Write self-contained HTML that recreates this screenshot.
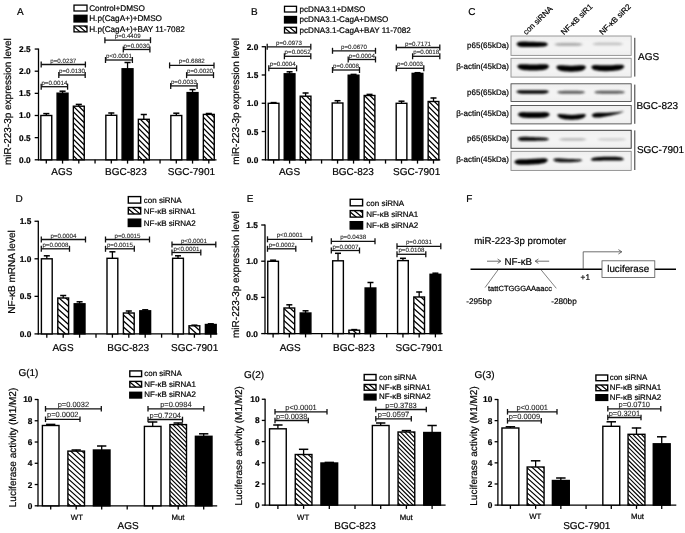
<!DOCTYPE html>
<html lang="en"><head><meta charset="utf-8"><title>Figure</title>
<style>
html,body{margin:0;padding:0;background:#fff;}
svg{display:block;}
text{font-family:"Liberation Sans",Arial,sans-serif;text-rendering:geometricPrecision;stroke:#000;stroke-width:0.22px;stroke-opacity:0.9;}
text.p{stroke:#222;stroke-width:0.1px;}
</style></head><body>
<svg width="685" height="533" viewBox="0 0 685 533">
<defs>
<filter id="b1" x="-20%" y="-120%" width="140%" height="340%"><feGaussianBlur stdDeviation="1.0 0.85"/></filter>
<filter id="b2" x="-20%" y="-120%" width="140%" height="340%"><feGaussianBlur stdDeviation="1.5 0.9"/></filter>
<linearGradient id="blotbg" x1="0" y1="0" x2="0" y2="1">
<stop offset="0" stop-color="#eeeeee"/><stop offset="0.3" stop-color="#f3f3f3"/><stop offset="0.7" stop-color="#f3f3f3"/><stop offset="1" stop-color="#eeeeee"/>
</linearGradient>
</defs>
<rect x="0" y="0" width="685" height="533" fill="#fff"/>
<g id="fig">
<text x="17.1" y="14.9" font-size="10" text-anchor="start" font-weight="normal" fill="#000" >A</text>
<rect x="74" y="5.1" width="13" height="5.9" fill="#fff" stroke="#000" stroke-width="1.3" />
<text x="89.2" y="11.2" font-size="8.2" text-anchor="start" font-weight="normal" fill="#000" >Control+DMSO</text>
<rect x="74" y="15.28" width="13" height="6.7" fill="#000" stroke="#000" stroke-width="1.3" />
<text x="89.2" y="21.3" font-size="8.2" text-anchor="start" font-weight="normal" fill="#000" >H.p(CagA+)+DMSO</text>
<rect x="74" y="26" width="13" height="5.9" fill="#fff" stroke="none" stroke-width="0" />
<clipPath id="c1"><rect x="74" y="26" width="13" height="5.9"/></clipPath>
<path clip-path="url(#c1)" d="M73,6.76L88,19.35M73,11.56L88,24.15M73,16.36L88,28.95M73,21.16L88,33.75M73,25.96L88,38.55M73,30.76L88,43.35M73,35.56L88,48.15" stroke="#000" stroke-width="1.25" fill="none"/>
<rect x="74" y="26" width="13" height="5.9" fill="none" stroke="#000" stroke-width="1.3" />
<text x="89.2" y="32.1" font-size="8.2" text-anchor="start" font-weight="normal" fill="#000" >H.p(CagA+)+BAY 11-7082</text>
<line x1="38.5" y1="48.55" x2="38.5" y2="160.3" stroke="#000" stroke-width="1.3" />
<line x1="38" y1="159.8" x2="216.5" y2="159.8" stroke="#000" stroke-width="1.3" />
<line x1="34.7" y1="159.8" x2="38.5" y2="159.8" stroke="#000" stroke-width="1.3" />
<text x="30.6" y="162.79" font-size="8.3" text-anchor="end" font-weight="bold" fill="#000" >0.0</text>
<line x1="34.7" y1="137.65" x2="38.5" y2="137.65" stroke="#000" stroke-width="1.3" />
<text x="30.6" y="140.64" font-size="8.3" text-anchor="end" font-weight="bold" fill="#000" >0.5</text>
<line x1="34.7" y1="115.5" x2="38.5" y2="115.5" stroke="#000" stroke-width="1.3" />
<text x="30.6" y="118.49" font-size="8.3" text-anchor="end" font-weight="bold" fill="#000" >1.0</text>
<line x1="34.7" y1="93.35" x2="38.5" y2="93.35" stroke="#000" stroke-width="1.3" />
<text x="30.6" y="96.34" font-size="8.3" text-anchor="end" font-weight="bold" fill="#000" >1.5</text>
<line x1="34.7" y1="71.2" x2="38.5" y2="71.2" stroke="#000" stroke-width="1.3" />
<text x="30.6" y="74.19" font-size="8.3" text-anchor="end" font-weight="bold" fill="#000" >2.0</text>
<line x1="34.7" y1="49.05" x2="38.5" y2="49.05" stroke="#000" stroke-width="1.3" />
<text x="30.6" y="52.04" font-size="8.3" text-anchor="end" font-weight="bold" fill="#000" >2.5</text>
<line x1="46.3" y1="159.8" x2="46.3" y2="163.6" stroke="#000" stroke-width="1.3" />
<line x1="62.55" y1="159.8" x2="62.55" y2="163.6" stroke="#000" stroke-width="1.3" />
<line x1="78.8" y1="159.8" x2="78.8" y2="163.6" stroke="#000" stroke-width="1.3" />
<line x1="95.05" y1="159.8" x2="95.05" y2="163.6" stroke="#000" stroke-width="1.3" />
<line x1="111.3" y1="159.8" x2="111.3" y2="163.6" stroke="#000" stroke-width="1.3" />
<line x1="127.55" y1="159.8" x2="127.55" y2="163.6" stroke="#000" stroke-width="1.3" />
<line x1="143.8" y1="159.8" x2="143.8" y2="163.6" stroke="#000" stroke-width="1.3" />
<line x1="160.05" y1="159.8" x2="160.05" y2="163.6" stroke="#000" stroke-width="1.3" />
<line x1="176.3" y1="159.8" x2="176.3" y2="163.6" stroke="#000" stroke-width="1.3" />
<line x1="192.55" y1="159.8" x2="192.55" y2="163.6" stroke="#000" stroke-width="1.3" />
<line x1="208.8" y1="159.8" x2="208.8" y2="163.6" stroke="#000" stroke-width="1.3" />
<text transform="translate(11.3,101.6) rotate(-90)" font-size="10" text-anchor="middle" fill="#000">miR-223-3p expression level</text>
<line x1="46.3" y1="115.5" x2="46.3" y2="113.3" stroke="#000" stroke-width="1.3" />
<line x1="43.25" y1="113.6" x2="49.35" y2="113.6" stroke="#000" stroke-width="1.5" />
<rect x="40.85" y="115.5" width="10.9" height="44.3" fill="#fff" stroke="#000" stroke-width="1.4" />
<line x1="62.55" y1="93.2" x2="62.55" y2="90.9" stroke="#000" stroke-width="1.3" />
<line x1="59.5" y1="91.2" x2="65.6" y2="91.2" stroke="#000" stroke-width="1.5" />
<rect x="57.1" y="93.2" width="10.9" height="66.6" fill="#000" stroke="#000" stroke-width="1.4" />
<line x1="78.8" y1="106.2" x2="78.8" y2="104.1" stroke="#000" stroke-width="1.3" />
<line x1="75.75" y1="104.4" x2="81.85" y2="104.4" stroke="#000" stroke-width="1.5" />
<rect x="73.35" y="106.2" width="10.9" height="53.6" fill="#fff" stroke="none" stroke-width="0" />
<clipPath id="c2"><rect x="73.35" y="106.2" width="10.9" height="53.6"/></clipPath>
<path clip-path="url(#c2)" d="M72.35,83.3L85.25,96.2M72.35,88.8L85.25,101.7M72.35,94.3L85.25,107.2M72.35,99.8L85.25,112.7M72.35,105.3L85.25,118.2M72.35,110.8L85.25,123.7M72.35,116.3L85.25,129.2M72.35,121.8L85.25,134.7M72.35,127.3L85.25,140.2M72.35,132.8L85.25,145.7M72.35,138.3L85.25,151.2M72.35,143.8L85.25,156.7M72.35,149.3L85.25,162.2M72.35,154.8L85.25,167.7M72.35,160.3L85.25,173.2" stroke="#000" stroke-width="1.3" fill="none"/>
<rect x="73.35" y="106.2" width="10.9" height="53.6" fill="none" stroke="#000" stroke-width="1.4" />
<line x1="111.3" y1="115.3" x2="111.3" y2="112.7" stroke="#000" stroke-width="1.3" />
<line x1="108.25" y1="113" x2="114.35" y2="113" stroke="#000" stroke-width="1.5" />
<rect x="105.85" y="115.3" width="10.9" height="44.5" fill="#fff" stroke="#000" stroke-width="1.4" />
<line x1="127.55" y1="68.8" x2="127.55" y2="62.2" stroke="#000" stroke-width="1.3" />
<line x1="124.5" y1="62.5" x2="130.6" y2="62.5" stroke="#000" stroke-width="1.5" />
<rect x="122.1" y="68.8" width="10.9" height="91" fill="#000" stroke="#000" stroke-width="1.4" />
<line x1="143.8" y1="119.3" x2="143.8" y2="114.2" stroke="#000" stroke-width="1.3" />
<line x1="140.75" y1="114.5" x2="146.85" y2="114.5" stroke="#000" stroke-width="1.5" />
<rect x="138.35" y="119.3" width="10.9" height="40.5" fill="#fff" stroke="none" stroke-width="0" />
<clipPath id="c3"><rect x="138.35" y="119.3" width="10.9" height="40.5"/></clipPath>
<path clip-path="url(#c3)" d="M137.35,94.3L150.25,107.2M137.35,99.8L150.25,112.7M137.35,105.3L150.25,118.2M137.35,110.8L150.25,123.7M137.35,116.3L150.25,129.2M137.35,121.8L150.25,134.7M137.35,127.3L150.25,140.2M137.35,132.8L150.25,145.7M137.35,138.3L150.25,151.2M137.35,143.8L150.25,156.7M137.35,149.3L150.25,162.2M137.35,154.8L150.25,167.7M137.35,160.3L150.25,173.2" stroke="#000" stroke-width="1.3" fill="none"/>
<rect x="138.35" y="119.3" width="10.9" height="40.5" fill="none" stroke="#000" stroke-width="1.4" />
<line x1="176.3" y1="115.5" x2="176.3" y2="112.9" stroke="#000" stroke-width="1.3" />
<line x1="173.25" y1="113.2" x2="179.35" y2="113.2" stroke="#000" stroke-width="1.5" />
<rect x="170.85" y="115.5" width="10.9" height="44.3" fill="#fff" stroke="#000" stroke-width="1.4" />
<line x1="192.55" y1="92.6" x2="192.55" y2="89.3" stroke="#000" stroke-width="1.3" />
<line x1="189.5" y1="89.6" x2="195.6" y2="89.6" stroke="#000" stroke-width="1.5" />
<rect x="187.1" y="92.6" width="10.9" height="67.2" fill="#000" stroke="#000" stroke-width="1.4" />
<line x1="208.8" y1="114.4" x2="208.8" y2="113.2" stroke="#000" stroke-width="1.3" />
<line x1="205.75" y1="113.5" x2="211.85" y2="113.5" stroke="#000" stroke-width="1.5" />
<rect x="203.35" y="114.4" width="10.9" height="45.4" fill="#fff" stroke="none" stroke-width="0" />
<clipPath id="c4"><rect x="203.35" y="114.4" width="10.9" height="45.4"/></clipPath>
<path clip-path="url(#c4)" d="M202.35,88.8L215.25,101.7M202.35,94.3L215.25,107.2M202.35,99.8L215.25,112.7M202.35,105.3L215.25,118.2M202.35,110.8L215.25,123.7M202.35,116.3L215.25,129.2M202.35,121.8L215.25,134.7M202.35,127.3L215.25,140.2M202.35,132.8L215.25,145.7M202.35,138.3L215.25,151.2M202.35,143.8L215.25,156.7M202.35,149.3L215.25,162.2M202.35,154.8L215.25,167.7M202.35,160.3L215.25,173.2" stroke="#000" stroke-width="1.3" fill="none"/>
<rect x="203.35" y="114.4" width="10.9" height="45.4" fill="none" stroke="#000" stroke-width="1.4" />
<line x1="41.2" y1="64.5" x2="85.4" y2="64.5" stroke="#111" stroke-width="1.3" />
<line x1="41.2" y1="61.5" x2="41.2" y2="67.5" stroke="#111" stroke-width="1.3" />
<line x1="85.4" y1="61.5" x2="85.4" y2="67.5" stroke="#111" stroke-width="1.3" />
<text x="63.3" y="62.5" font-size="6.2" text-anchor="middle" font-weight="normal" fill="#222" class="p">p=0.0237</text>
<line x1="58.8" y1="75" x2="85.2" y2="75" stroke="#111" stroke-width="1.3" />
<line x1="58.8" y1="72" x2="58.8" y2="78" stroke="#111" stroke-width="1.3" />
<line x1="85.2" y1="72" x2="85.2" y2="78" stroke="#111" stroke-width="1.3" />
<text x="72" y="73" font-size="6.2" text-anchor="middle" font-weight="normal" fill="#222" class="p">p=0.0130</text>
<line x1="41.2" y1="86.7" x2="67.6" y2="86.7" stroke="#111" stroke-width="1.3" />
<line x1="41.2" y1="83.7" x2="41.2" y2="89.7" stroke="#111" stroke-width="1.3" />
<line x1="67.6" y1="83.7" x2="67.6" y2="89.7" stroke="#111" stroke-width="1.3" />
<text x="54.4" y="84.7" font-size="6.2" text-anchor="middle" font-weight="normal" fill="#222" class="p">p=0.0014</text>
<line x1="104.9" y1="40.2" x2="150.5" y2="40.2" stroke="#111" stroke-width="1.3" />
<line x1="104.9" y1="37.2" x2="104.9" y2="43.2" stroke="#111" stroke-width="1.3" />
<line x1="150.5" y1="37.2" x2="150.5" y2="43.2" stroke="#111" stroke-width="1.3" />
<text x="127.7" y="38.2" font-size="6.2" text-anchor="middle" font-weight="normal" fill="#222" class="p">p=0.4409</text>
<line x1="123.3" y1="49.5" x2="149.9" y2="49.5" stroke="#111" stroke-width="1.3" />
<line x1="123.3" y1="46.5" x2="123.3" y2="52.5" stroke="#111" stroke-width="1.3" />
<line x1="149.9" y1="46.5" x2="149.9" y2="52.5" stroke="#111" stroke-width="1.3" />
<text x="136.6" y="47.5" font-size="6.2" text-anchor="middle" font-weight="normal" fill="#222" class="p">p=0.0030</text>
<line x1="105.5" y1="60" x2="132.4" y2="60" stroke="#111" stroke-width="1.3" />
<line x1="105.5" y1="57" x2="105.5" y2="63" stroke="#111" stroke-width="1.3" />
<line x1="132.4" y1="57" x2="132.4" y2="63" stroke="#111" stroke-width="1.3" />
<text x="118.95" y="58" font-size="6.2" text-anchor="middle" font-weight="normal" fill="#222" class="p">p&lt;0.0001</text>
<line x1="169.6" y1="65.4" x2="214" y2="65.4" stroke="#111" stroke-width="1.3" />
<line x1="169.6" y1="62.4" x2="169.6" y2="68.4" stroke="#111" stroke-width="1.3" />
<line x1="214" y1="62.4" x2="214" y2="68.4" stroke="#111" stroke-width="1.3" />
<text x="191.8" y="63.4" font-size="6.2" text-anchor="middle" font-weight="normal" fill="#222" class="p">p=0.6882</text>
<line x1="186.6" y1="75.1" x2="213.5" y2="75.1" stroke="#111" stroke-width="1.3" />
<line x1="186.6" y1="72.1" x2="186.6" y2="78.1" stroke="#111" stroke-width="1.3" />
<line x1="213.5" y1="72.1" x2="213.5" y2="78.1" stroke="#111" stroke-width="1.3" />
<text x="200.05" y="73.1" font-size="6.2" text-anchor="middle" font-weight="normal" fill="#222" class="p">p=0.0020</text>
<line x1="170.7" y1="85.9" x2="197.1" y2="85.9" stroke="#111" stroke-width="1.3" />
<line x1="170.7" y1="82.9" x2="170.7" y2="88.9" stroke="#111" stroke-width="1.3" />
<line x1="197.1" y1="82.9" x2="197.1" y2="88.9" stroke="#111" stroke-width="1.3" />
<text x="183.9" y="83.9" font-size="6.2" text-anchor="middle" font-weight="normal" fill="#222" class="p">p=0.0033</text>
<text x="61.8" y="174.6" font-size="10" text-anchor="middle" font-weight="normal" fill="#000" >AGS</text>
<text x="125.9" y="174.6" font-size="10" text-anchor="middle" font-weight="normal" fill="#000" >BGC-823</text>
<text x="191.4" y="174.6" font-size="10" text-anchor="middle" font-weight="normal" fill="#000" >SGC-7901</text>
<text x="251" y="14.7" font-size="10" text-anchor="start" font-weight="normal" fill="#000" >B</text>
<rect x="284.5" y="6.3" width="12" height="5.7" fill="#fff" stroke="#000" stroke-width="1.3" />
<text x="299.5" y="11.8" font-size="8.1" text-anchor="start" font-weight="normal" fill="#000" >pcDNA3.1+DMSO</text>
<rect x="284.5" y="16.48" width="12" height="6.5" fill="#000" stroke="#000" stroke-width="1.3" />
<text x="299.5" y="21.9" font-size="8.1" text-anchor="start" font-weight="normal" fill="#000" >pcDNA3.1-CagA+DMSO</text>
<rect x="284.5" y="27.3" width="12" height="5.7" fill="#fff" stroke="none" stroke-width="0" />
<clipPath id="c5"><rect x="284.5" y="27.3" width="12" height="5.7"/></clipPath>
<path clip-path="url(#c5)" d="M283.5,7.86L297.5,19.61M283.5,12.66L297.5,24.41M283.5,17.46L297.5,29.21M283.5,22.26L297.5,34.01M283.5,27.06L297.5,38.81M283.5,31.86L297.5,43.61M283.5,36.66L297.5,48.41" stroke="#000" stroke-width="1.25" fill="none"/>
<rect x="284.5" y="27.3" width="12" height="5.7" fill="none" stroke="#000" stroke-width="1.3" />
<text x="299.5" y="32.8" font-size="8.1" text-anchor="start" font-weight="normal" fill="#000" >pcDNA3.1-CagA+BAY 11-7082</text>
<line x1="265.5" y1="46.2" x2="265.5" y2="160.3" stroke="#000" stroke-width="1.3" />
<line x1="265" y1="159.8" x2="440.3" y2="159.8" stroke="#000" stroke-width="1.3" />
<line x1="261.7" y1="159.8" x2="265.5" y2="159.8" stroke="#000" stroke-width="1.3" />
<text x="258.3" y="162.79" font-size="8.3" text-anchor="end" font-weight="bold" fill="#000" >0.0</text>
<line x1="261.7" y1="131.53" x2="265.5" y2="131.53" stroke="#000" stroke-width="1.3" />
<text x="258.3" y="134.52" font-size="8.3" text-anchor="end" font-weight="bold" fill="#000" >0.5</text>
<line x1="261.7" y1="103.26" x2="265.5" y2="103.26" stroke="#000" stroke-width="1.3" />
<text x="258.3" y="106.25" font-size="8.3" text-anchor="end" font-weight="bold" fill="#000" >1.0</text>
<line x1="261.7" y1="74.99" x2="265.5" y2="74.99" stroke="#000" stroke-width="1.3" />
<text x="258.3" y="77.98" font-size="8.3" text-anchor="end" font-weight="bold" fill="#000" >1.5</text>
<line x1="261.7" y1="46.72" x2="265.5" y2="46.72" stroke="#000" stroke-width="1.3" />
<text x="258.3" y="49.71" font-size="8.3" text-anchor="end" font-weight="bold" fill="#000" >2.0</text>
<line x1="273.6" y1="159.8" x2="273.6" y2="163.6" stroke="#000" stroke-width="1.3" />
<line x1="289.59" y1="159.8" x2="289.59" y2="163.6" stroke="#000" stroke-width="1.3" />
<line x1="305.58" y1="159.8" x2="305.58" y2="163.6" stroke="#000" stroke-width="1.3" />
<line x1="321.57" y1="159.8" x2="321.57" y2="163.6" stroke="#000" stroke-width="1.3" />
<line x1="337.56" y1="159.8" x2="337.56" y2="163.6" stroke="#000" stroke-width="1.3" />
<line x1="353.55" y1="159.8" x2="353.55" y2="163.6" stroke="#000" stroke-width="1.3" />
<line x1="369.54" y1="159.8" x2="369.54" y2="163.6" stroke="#000" stroke-width="1.3" />
<line x1="385.53" y1="159.8" x2="385.53" y2="163.6" stroke="#000" stroke-width="1.3" />
<line x1="401.52" y1="159.8" x2="401.52" y2="163.6" stroke="#000" stroke-width="1.3" />
<line x1="417.51" y1="159.8" x2="417.51" y2="163.6" stroke="#000" stroke-width="1.3" />
<line x1="433.5" y1="159.8" x2="433.5" y2="163.6" stroke="#000" stroke-width="1.3" />
<text transform="translate(238.9,101.3) rotate(-90)" font-size="10" text-anchor="middle" fill="#000">miR-223-3p expression level</text>
<line x1="273.6" y1="103.3" x2="273.6" y2="102.3" stroke="#000" stroke-width="1.3" />
<line x1="270.6" y1="102.6" x2="276.6" y2="102.6" stroke="#000" stroke-width="1.5" />
<rect x="268.25" y="103.3" width="10.7" height="56.5" fill="#fff" stroke="#000" stroke-width="1.4" />
<line x1="289.59" y1="73.8" x2="289.59" y2="71.5" stroke="#000" stroke-width="1.3" />
<line x1="286.59" y1="71.8" x2="292.59" y2="71.8" stroke="#000" stroke-width="1.5" />
<rect x="284.24" y="73.8" width="10.7" height="86" fill="#000" stroke="#000" stroke-width="1.4" />
<line x1="305.58" y1="96.2" x2="305.58" y2="92.7" stroke="#000" stroke-width="1.3" />
<line x1="302.58" y1="93" x2="308.58" y2="93" stroke="#000" stroke-width="1.5" />
<rect x="300.23" y="96.2" width="10.7" height="63.6" fill="#fff" stroke="none" stroke-width="0" />
<clipPath id="c6"><rect x="300.23" y="96.2" width="10.7" height="63.6"/></clipPath>
<path clip-path="url(#c6)" d="M299.23,72.3L311.93,85M299.23,77.8L311.93,90.5M299.23,83.3L311.93,96M299.23,88.8L311.93,101.5M299.23,94.3L311.93,107M299.23,99.8L311.93,112.5M299.23,105.3L311.93,118M299.23,110.8L311.93,123.5M299.23,116.3L311.93,129M299.23,121.8L311.93,134.5M299.23,127.3L311.93,140M299.23,132.8L311.93,145.5M299.23,138.3L311.93,151M299.23,143.8L311.93,156.5M299.23,149.3L311.93,162M299.23,154.8L311.93,167.5M299.23,160.3L311.93,173" stroke="#000" stroke-width="1.3" fill="none"/>
<rect x="300.23" y="96.2" width="10.7" height="63.6" fill="none" stroke="#000" stroke-width="1.4" />
<line x1="337.56" y1="103" x2="337.56" y2="100.4" stroke="#000" stroke-width="1.3" />
<line x1="334.56" y1="100.7" x2="340.56" y2="100.7" stroke="#000" stroke-width="1.5" />
<rect x="332.21" y="103" width="10.7" height="56.8" fill="#fff" stroke="#000" stroke-width="1.4" />
<line x1="353.55" y1="75.2" x2="353.55" y2="74.1" stroke="#000" stroke-width="1.3" />
<line x1="350.55" y1="74.4" x2="356.55" y2="74.4" stroke="#000" stroke-width="1.5" />
<rect x="348.2" y="75.2" width="10.7" height="84.6" fill="#000" stroke="#000" stroke-width="1.4" />
<line x1="369.54" y1="95.5" x2="369.54" y2="94.1" stroke="#000" stroke-width="1.3" />
<line x1="366.54" y1="94.4" x2="372.54" y2="94.4" stroke="#000" stroke-width="1.5" />
<rect x="364.19" y="95.5" width="10.7" height="64.3" fill="#fff" stroke="none" stroke-width="0" />
<clipPath id="c7"><rect x="364.19" y="95.5" width="10.7" height="64.3"/></clipPath>
<path clip-path="url(#c7)" d="M363.19,72.3L375.89,85M363.19,77.8L375.89,90.5M363.19,83.3L375.89,96M363.19,88.8L375.89,101.5M363.19,94.3L375.89,107M363.19,99.8L375.89,112.5M363.19,105.3L375.89,118M363.19,110.8L375.89,123.5M363.19,116.3L375.89,129M363.19,121.8L375.89,134.5M363.19,127.3L375.89,140M363.19,132.8L375.89,145.5M363.19,138.3L375.89,151M363.19,143.8L375.89,156.5M363.19,149.3L375.89,162M363.19,154.8L375.89,167.5M363.19,160.3L375.89,173" stroke="#000" stroke-width="1.3" fill="none"/>
<rect x="364.19" y="95.5" width="10.7" height="64.3" fill="none" stroke="#000" stroke-width="1.4" />
<line x1="401.52" y1="103.3" x2="401.52" y2="100.9" stroke="#000" stroke-width="1.3" />
<line x1="398.52" y1="101.2" x2="404.52" y2="101.2" stroke="#000" stroke-width="1.5" />
<rect x="396.17" y="103.3" width="10.7" height="56.5" fill="#fff" stroke="#000" stroke-width="1.4" />
<line x1="417.51" y1="73.4" x2="417.51" y2="72.4" stroke="#000" stroke-width="1.3" />
<line x1="414.51" y1="72.7" x2="420.51" y2="72.7" stroke="#000" stroke-width="1.5" />
<rect x="412.16" y="73.4" width="10.7" height="86.4" fill="#000" stroke="#000" stroke-width="1.4" />
<line x1="433.5" y1="101.5" x2="433.5" y2="97.7" stroke="#000" stroke-width="1.3" />
<line x1="430.5" y1="98" x2="436.5" y2="98" stroke="#000" stroke-width="1.5" />
<rect x="428.15" y="101.5" width="10.7" height="58.3" fill="#fff" stroke="none" stroke-width="0" />
<clipPath id="c8"><rect x="428.15" y="101.5" width="10.7" height="58.3"/></clipPath>
<path clip-path="url(#c8)" d="M427.15,77.8L439.85,90.5M427.15,83.3L439.85,96M427.15,88.8L439.85,101.5M427.15,94.3L439.85,107M427.15,99.8L439.85,112.5M427.15,105.3L439.85,118M427.15,110.8L439.85,123.5M427.15,116.3L439.85,129M427.15,121.8L439.85,134.5M427.15,127.3L439.85,140M427.15,132.8L439.85,145.5M427.15,138.3L439.85,151M427.15,143.8L439.85,156.5M427.15,149.3L439.85,162M427.15,154.8L439.85,167.5M427.15,160.3L439.85,173" stroke="#000" stroke-width="1.3" fill="none"/>
<rect x="428.15" y="101.5" width="10.7" height="58.3" fill="none" stroke="#000" stroke-width="1.4" />
<line x1="267.2" y1="46.8" x2="310.8" y2="46.8" stroke="#111" stroke-width="1.3" />
<line x1="267.2" y1="43.8" x2="267.2" y2="49.8" stroke="#111" stroke-width="1.3" />
<line x1="310.8" y1="43.8" x2="310.8" y2="49.8" stroke="#111" stroke-width="1.3" />
<text x="289" y="44.8" font-size="6.2" text-anchor="middle" font-weight="normal" fill="#222" class="p">p=0.0973</text>
<line x1="284.4" y1="56.3" x2="310.8" y2="56.3" stroke="#111" stroke-width="1.3" />
<line x1="284.4" y1="53.3" x2="284.4" y2="59.3" stroke="#111" stroke-width="1.3" />
<line x1="310.8" y1="53.3" x2="310.8" y2="59.3" stroke="#111" stroke-width="1.3" />
<text x="297.6" y="54.3" font-size="6.2" text-anchor="middle" font-weight="normal" fill="#222" class="p">p=0.0052</text>
<line x1="268.8" y1="68.3" x2="296.6" y2="68.3" stroke="#111" stroke-width="1.3" />
<line x1="268.8" y1="65.3" x2="268.8" y2="71.3" stroke="#111" stroke-width="1.3" />
<line x1="296.6" y1="65.3" x2="296.6" y2="71.3" stroke="#111" stroke-width="1.3" />
<text x="282.7" y="66.3" font-size="6.2" text-anchor="middle" font-weight="normal" fill="#222" class="p">p=0.0004</text>
<line x1="332.5" y1="50.8" x2="375.5" y2="50.8" stroke="#111" stroke-width="1.3" />
<line x1="332.5" y1="47.8" x2="332.5" y2="53.8" stroke="#111" stroke-width="1.3" />
<line x1="375.5" y1="47.8" x2="375.5" y2="53.8" stroke="#111" stroke-width="1.3" />
<text x="354" y="48.8" font-size="6.2" text-anchor="middle" font-weight="normal" fill="#222" class="p">p=0.0670</text>
<line x1="348.2" y1="59.5" x2="375.5" y2="59.5" stroke="#111" stroke-width="1.3" />
<line x1="348.2" y1="56.5" x2="348.2" y2="62.5" stroke="#111" stroke-width="1.3" />
<line x1="375.5" y1="56.5" x2="375.5" y2="62.5" stroke="#111" stroke-width="1.3" />
<text x="361.85" y="57.5" font-size="6.2" text-anchor="middle" font-weight="normal" fill="#222" class="p">p=0.0004</text>
<line x1="332.5" y1="70" x2="359.5" y2="70" stroke="#111" stroke-width="1.3" />
<line x1="332.5" y1="67" x2="332.5" y2="73" stroke="#111" stroke-width="1.3" />
<line x1="359.5" y1="67" x2="359.5" y2="73" stroke="#111" stroke-width="1.3" />
<text x="346" y="68" font-size="6.2" text-anchor="middle" font-weight="normal" fill="#222" class="p">p=0.0008</text>
<line x1="396.3" y1="47.5" x2="439.8" y2="47.5" stroke="#111" stroke-width="1.3" />
<line x1="396.3" y1="44.5" x2="396.3" y2="50.5" stroke="#111" stroke-width="1.3" />
<line x1="439.8" y1="44.5" x2="439.8" y2="50.5" stroke="#111" stroke-width="1.3" />
<text x="418.05" y="45.5" font-size="6.2" text-anchor="middle" font-weight="normal" fill="#222" class="p">p=0.7171</text>
<line x1="412.6" y1="56.3" x2="439.8" y2="56.3" stroke="#111" stroke-width="1.3" />
<line x1="412.6" y1="53.3" x2="412.6" y2="59.3" stroke="#111" stroke-width="1.3" />
<line x1="439.8" y1="53.3" x2="439.8" y2="59.3" stroke="#111" stroke-width="1.3" />
<text x="426.2" y="54.3" font-size="6.2" text-anchor="middle" font-weight="normal" fill="#222" class="p">p=0.0018</text>
<line x1="396.3" y1="68.3" x2="423.8" y2="68.3" stroke="#111" stroke-width="1.3" />
<line x1="396.3" y1="65.3" x2="396.3" y2="71.3" stroke="#111" stroke-width="1.3" />
<line x1="423.8" y1="65.3" x2="423.8" y2="71.3" stroke="#111" stroke-width="1.3" />
<text x="410.05" y="66.3" font-size="6.2" text-anchor="middle" font-weight="normal" fill="#222" class="p">p=0.0003</text>
<text x="289.5" y="174.6" font-size="10" text-anchor="middle" font-weight="normal" fill="#000" >AGS</text>
<text x="353" y="174.6" font-size="10" text-anchor="middle" font-weight="normal" fill="#000" >BGC-823</text>
<text x="416.6" y="174.6" font-size="10" text-anchor="middle" font-weight="normal" fill="#000" >SGC-7901</text>
<text x="468.2" y="14.5" font-size="10" text-anchor="start" font-weight="normal" fill="#000" >C</text>
<text transform="translate(526.2,35.3) rotate(-44)" font-size="7.9" fill="#000">con siRNA</text>
<text transform="translate(564.1,35.3) rotate(-44)" font-size="7.9" fill="#000">NF-κB siR1</text>
<text transform="translate(602.4,35.3) rotate(-44)" font-size="7.9" fill="#000">NF-κB siR2</text>
<rect x="511" y="36" width="120.2" height="19.4" fill="url(#blotbg)" stroke="#8f8f8f" stroke-width="0.9" />
<rect x="511" y="58.3" width="120.2" height="18.8" fill="url(#blotbg)" stroke="#8f8f8f" stroke-width="0.9" />
<rect x="511" y="83.8" width="120.2" height="17.7" fill="url(#blotbg)" stroke="#383838" stroke-width="0.8" />
<rect x="511" y="105.4" width="120.2" height="18.5" fill="url(#blotbg)" stroke="#383838" stroke-width="0.8" />
<rect x="511" y="130.3" width="120.2" height="18" fill="url(#blotbg)" stroke="#3c3c3c" stroke-width="1" />
<rect x="511" y="151.3" width="120.2" height="19.1" fill="url(#blotbg)" stroke="#8a8a8a" stroke-width="0.9" />
<path d="M516.3,44.05 L518.29,42.05 L520.29,41.63 L522.28,41.51 L524.27,41.51 L526.27,41.56 L528.26,41.64 L530.26,41.71 L532.25,41.78 L534.24,41.85 L536.24,41.9 L538.23,41.96 L540.23,42.04 L542.22,42.16 L544.21,42.37 L546.21,42.79 L548.2,44.35 L548.2,44.35 L546.21,45.97 L544.21,46.43 L542.22,46.68 L540.23,46.81 L538.23,46.89 L536.24,46.95 L534.24,46.99 L532.25,47.02 L530.26,47.05 L528.26,47.06 L526.27,47.07 L524.27,47.04 L522.28,46.95 L520.29,46.72 L518.29,46.18 L516.3,44.05Z" fill="#000" opacity="1" filter="url(#b1)"/>
<path d="M554.5,44.4 L556.25,43.32 L558,43.04 L559.75,42.92 L561.5,42.87 L563.25,42.85 L565,42.85 L566.75,42.85 L568.5,42.85 L570.25,42.85 L572,42.85 L573.75,42.85 L575.5,42.87 L577.25,42.92 L579,43.04 L580.75,43.32 L582.5,44.4 L582.5,44.4 L580.75,45.48 L579,45.76 L577.25,45.88 L575.5,45.93 L573.75,45.95 L572,45.95 L570.25,45.95 L568.5,45.95 L566.75,45.95 L565,45.95 L563.25,45.95 L561.5,45.93 L559.75,45.88 L558,45.76 L556.25,45.48 L554.5,44.4Z" fill="#999" opacity="0.75" filter="url(#b2)"/>
<path d="M592.5,43.9 L594.41,42.88 L596.31,42.63 L598.22,42.52 L600.12,42.47 L602.03,42.45 L603.94,42.45 L605.84,42.45 L607.75,42.45 L609.66,42.45 L611.56,42.45 L613.47,42.45 L615.38,42.47 L617.28,42.52 L619.19,42.63 L621.09,42.88 L623,43.9 L623,43.9 L621.09,44.92 L619.19,45.17 L617.28,45.28 L615.38,45.33 L613.47,45.35 L611.56,45.35 L609.66,45.35 L607.75,45.35 L605.84,45.35 L603.94,45.35 L602.03,45.35 L600.12,45.33 L598.22,45.28 L596.31,45.17 L594.41,44.92 L592.5,43.9Z" fill="#a8a8a8" opacity="0.65" filter="url(#b2)"/>
<path d="M517,66.25 L519.02,64.46 L521.04,64.19 L523.06,64.18 L525.08,64.27 L527.09,64.37 L529.11,64.46 L531.13,64.52 L533.15,64.54 L535.17,64.52 L537.19,64.46 L539.21,64.37 L541.22,64.27 L543.24,64.18 L545.26,64.19 L547.28,64.46 L549.3,66.25 L549.3,66.25 L547.28,68.65 L545.26,69.44 L543.24,69.9 L541.22,70.18 L539.21,70.36 L537.19,70.47 L535.17,70.54 L533.15,70.56 L531.13,70.54 L529.11,70.47 L527.09,70.36 L525.08,70.18 L523.06,69.9 L521.04,69.44 L519.02,68.65 L517,66.25Z" fill="#000" opacity="1" filter="url(#b1)"/>
<path d="M556,67.1 L557.89,65.38 L559.77,65.17 L561.66,65.21 L563.55,65.34 L565.44,65.48 L567.33,65.59 L569.21,65.67 L571.1,65.69 L572.99,65.67 L574.88,65.59 L576.76,65.48 L578.65,65.34 L580.54,65.21 L582.43,65.17 L584.31,65.38 L586.2,67.1 L586.2,67.1 L584.31,69.57 L582.43,70.43 L580.54,70.94 L578.65,71.26 L576.76,71.47 L574.88,71.61 L572.99,71.68 L571.1,71.71 L569.21,71.68 L567.33,71.61 L565.44,71.47 L563.55,71.26 L561.66,70.94 L559.77,70.43 L557.89,69.57 L556,67.1Z" fill="#000" opacity="1" filter="url(#b1)"/>
<path d="M591,67.05 L593.1,65.33 L595.2,65.09 L597.3,65.08 L599.4,65.16 L601.5,65.25 L603.6,65.32 L605.7,65.35 L607.8,65.34 L609.9,65.28 L612,65.17 L614.1,65.03 L616.2,64.86 L618.3,64.71 L620.4,64.64 L622.5,64.81 L624.6,66.45 L624.6,66.45 L622.5,68.87 L620.4,69.72 L618.3,70.24 L616.2,70.59 L614.1,70.83 L612,70.99 L609.9,71.1 L607.8,71.16 L605.7,71.17 L603.6,71.14 L601.5,71.05 L599.4,70.89 L597.3,70.62 L595.2,70.17 L593.1,69.4 L591,67.05Z" fill="#000" opacity="1" filter="url(#b1)"/>
<path d="M516,91.8 L518.08,90.59 L520.15,90.32 L522.23,90.22 L524.3,90.18 L526.38,90.18 L528.45,90.19 L530.52,90.2 L532.6,90.21 L534.68,90.2 L536.75,90.19 L538.83,90.18 L540.9,90.18 L542.98,90.22 L545.05,90.32 L547.12,90.59 L549.2,91.8 L549.2,91.8 L547.12,93.1 L545.05,93.45 L542.98,93.63 L540.9,93.72 L538.83,93.76 L536.75,93.78 L534.68,93.79 L532.6,93.79 L530.52,93.79 L528.45,93.78 L526.38,93.76 L524.3,93.72 L522.23,93.63 L520.15,93.45 L518.08,93.1 L516,91.8Z" fill="#000" opacity="1" filter="url(#b1)"/>
<path d="M557,92.3 L558.76,91.28 L560.52,91.03 L562.29,90.92 L564.05,90.87 L565.81,90.85 L567.58,90.85 L569.34,90.85 L571.1,90.84 L572.86,90.85 L574.62,90.85 L576.39,90.85 L578.15,90.87 L579.91,90.92 L581.68,91.03 L583.44,91.28 L585.2,92.3 L585.2,92.3 L583.44,93.32 L581.68,93.57 L579.91,93.68 L578.15,93.73 L576.39,93.75 L574.62,93.75 L572.86,93.75 L571.1,93.75 L569.34,93.75 L567.58,93.75 L565.81,93.75 L564.05,93.73 L562.29,93.68 L560.52,93.57 L558.76,93.32 L557,92.3Z" fill="#4a4a4a" opacity="0.9" filter="url(#b1)"/>
<path d="M594,92.2 L595.95,91.18 L597.9,90.93 L599.85,90.82 L601.8,90.77 L603.75,90.75 L605.7,90.75 L607.65,90.75 L609.6,90.75 L611.55,90.75 L613.5,90.75 L615.45,90.75 L617.4,90.77 L619.35,90.82 L621.3,90.93 L623.25,91.18 L625.2,92.2 L625.2,92.2 L623.25,93.22 L621.3,93.47 L619.35,93.58 L617.4,93.63 L615.45,93.65 L613.5,93.65 L611.55,93.65 L609.6,93.66 L607.65,93.65 L605.7,93.65 L603.75,93.65 L601.8,93.63 L599.85,93.58 L597.9,93.47 L595.95,93.22 L594,92.2Z" fill="#4a4a4a" opacity="0.9" filter="url(#b1)"/>
<path d="M517.6,114.4 L519.62,112.56 L521.65,112.21 L523.68,112.12 L525.7,112.14 L527.73,112.19 L529.75,112.24 L531.77,112.28 L533.8,112.29 L535.83,112.28 L537.85,112.24 L539.88,112.19 L541.9,112.14 L543.92,112.12 L545.95,112.21 L547.98,112.56 L550,114.4 L550,114.4 L547.98,116.62 L545.95,117.29 L543.92,117.66 L541.9,117.86 L539.88,117.99 L537.85,118.06 L535.83,118.1 L533.8,118.11 L531.77,118.1 L529.75,118.06 L527.73,117.99 L525.7,117.86 L523.68,117.66 L521.65,117.29 L519.62,116.62 L517.6,114.4Z" fill="#000" opacity="1" filter="url(#b1)"/>
<path d="M557,115.1 L558.83,113.92 L560.65,113.94 L562.48,114.13 L564.3,114.36 L566.12,114.57 L567.95,114.74 L569.77,114.84 L571.6,114.88 L573.43,114.84 L575.25,114.74 L577.08,114.57 L578.9,114.36 L580.73,114.13 L582.55,113.94 L584.38,113.92 L586.2,115.1 L586.2,115.1 L584.38,117.31 L582.55,118.18 L580.73,118.75 L578.9,119.14 L577.08,119.41 L575.25,119.59 L573.43,119.69 L571.6,119.73 L569.77,119.69 L567.95,119.59 L566.12,119.41 L564.3,119.14 L562.48,118.75 L560.65,118.18 L558.83,117.31 L557,115.1Z" fill="#000" opacity="1" filter="url(#b1)"/>
<path d="M591.5,115.3 L593.54,113.47 L595.59,113.04 L597.63,112.87 L599.67,112.81 L601.72,112.79 L603.76,112.77 L605.81,112.74 L607.85,112.68 L609.89,112.59 L611.94,112.46 L613.98,112.32 L616.03,112.16 L618.07,111.98 L620.11,111.79 L622.16,111.59 L624.2,111.5 L624.2,111.5 L622.16,112.36 L620.11,113.04 L618.07,113.67 L616.03,114.24 L613.98,114.77 L611.94,115.26 L609.89,115.71 L607.85,116.12 L605.81,116.5 L603.76,116.85 L601.72,117.15 L599.67,117.39 L597.63,117.52 L595.59,117.48 L593.54,117.13 L591.5,115.3Z" fill="#000" opacity="1" filter="url(#b1)"/>
<path d="M517.5,138.85 L519.48,137.22 L521.46,136.88 L523.44,136.77 L525.42,136.78 L527.41,136.83 L529.39,136.9 L531.37,136.98 L533.35,137.06 L535.33,137.14 L537.31,137.22 L539.29,137.3 L541.28,137.4 L543.26,137.54 L545.24,137.74 L547.22,138.07 L549.2,139.15 L549.2,139.15 L547.22,140.19 L545.24,140.49 L543.26,140.65 L541.28,140.75 L539.29,140.81 L537.31,140.86 L535.33,140.9 L533.35,140.94 L531.37,140.98 L529.39,141.02 L527.41,141.06 L525.42,141.07 L523.44,141.04 L521.46,140.9 L519.48,140.52 L517.5,138.85Z" fill="#0a0a0a" opacity="1" filter="url(#b1)"/>
<path d="M559,139.4 L560.72,138.45 L562.44,138.21 L564.16,138.11 L565.88,138.06 L567.59,138.05 L569.31,138.04 L571.03,138.04 L572.75,138.04 L574.47,138.04 L576.19,138.04 L577.91,138.05 L579.62,138.06 L581.34,138.11 L583.06,138.21 L584.78,138.45 L586.5,139.4 L586.5,139.4 L584.78,140.35 L583.06,140.59 L581.34,140.69 L579.62,140.74 L577.91,140.75 L576.19,140.76 L574.47,140.76 L572.75,140.76 L571.03,140.76 L569.31,140.76 L567.59,140.75 L565.88,140.74 L564.16,140.69 L562.44,140.59 L560.72,140.35 L559,139.4Z" fill="#a8a8a8" opacity="0.75" filter="url(#b2)"/>
<path d="M597.5,139.4 L599.28,138.52 L601.06,138.3 L602.84,138.2 L604.62,138.16 L606.41,138.14 L608.19,138.14 L609.97,138.14 L611.75,138.14 L613.53,138.14 L615.31,138.14 L617.09,138.14 L618.88,138.16 L620.66,138.2 L622.44,138.3 L624.22,138.52 L626,139.4 L626,139.4 L624.22,140.28 L622.44,140.5 L620.66,140.6 L618.88,140.64 L617.09,140.66 L615.31,140.66 L613.53,140.66 L611.75,140.66 L609.97,140.66 L608.19,140.66 L606.41,140.66 L604.62,140.64 L602.84,140.6 L601.06,140.5 L599.28,140.28 L597.5,139.4Z" fill="#bbb" opacity="0.65" filter="url(#b2)"/>
<path d="M514,161.9 L516.14,160.01 L518.27,159.57 L520.41,159.37 L522.55,159.28 L524.69,159.22 L526.83,159.16 L528.96,159.09 L531.1,158.99 L533.24,158.86 L535.38,158.71 L537.51,158.55 L539.65,158.38 L541.79,158.25 L543.93,158.22 L546.06,158.44 L548.2,160.1 L548.2,160.1 L546.06,162.36 L543.93,163.13 L541.79,163.6 L539.65,163.92 L537.51,164.15 L535.38,164.34 L533.24,164.49 L531.1,164.61 L528.96,164.71 L526.83,164.79 L524.69,164.83 L522.55,164.82 L520.41,164.73 L518.27,164.48 L516.14,163.94 L514,161.9Z" fill="#000" opacity="1" filter="url(#b1)"/>
<path d="M553,159.8 L554.85,158.57 L556.7,158.38 L558.55,158.37 L560.4,158.45 L562.25,158.56 L564.1,158.69 L565.95,158.8 L567.8,158.9 L569.65,158.99 L571.5,159.05 L573.35,159.11 L575.2,159.16 L577.05,159.23 L578.9,159.34 L580.75,159.52 L582.6,160.2 L582.6,160.2 L580.75,161.11 L578.9,161.49 L577.05,161.75 L575.2,161.94 L573.35,162.07 L571.5,162.17 L569.65,162.25 L567.8,162.3 L565.95,162.33 L564.1,162.34 L562.25,162.32 L560.4,162.25 L558.55,162.11 L556.7,161.85 L554.85,161.36 L553,159.8Z" fill="#0a0a0a" opacity="1" filter="url(#b1)"/>
<path d="M590.5,159.6 L592.61,158.07 L594.71,157.55 L596.82,157.24 L598.92,157.04 L601.03,156.9 L603.14,156.81 L605.24,156.75 L607.35,156.71 L609.46,156.7 L611.56,156.71 L613.67,156.75 L615.78,156.84 L617.88,156.99 L619.99,157.25 L622.09,157.72 L624.2,159.2 L624.2,159.2 L622.09,160.36 L619.99,160.55 L617.88,160.59 L615.78,160.56 L613.67,160.52 L611.56,160.49 L609.46,160.48 L607.35,160.49 L605.24,160.53 L603.14,160.59 L601.03,160.67 L598.92,160.76 L596.82,160.84 L594.71,160.85 L592.61,160.71 L590.5,159.6Z" fill="#000" opacity="1" filter="url(#b1)"/>
<text x="508.9" y="47.9" font-size="8" text-anchor="end" font-weight="normal" fill="#000" >p65(65kDa)</text>
<text x="508.9" y="68.7" font-size="8" text-anchor="end" font-weight="normal" fill="#000" >β-actin(45kDa)</text>
<text x="508.9" y="94.8" font-size="8" text-anchor="end" font-weight="normal" fill="#000" >p65(65kDa)</text>
<text x="508.9" y="115.9" font-size="8" text-anchor="end" font-weight="normal" fill="#000" >β-actin(45kDa)</text>
<text x="508.9" y="141.4" font-size="8" text-anchor="end" font-weight="normal" fill="#000" >p65(65kDa)</text>
<text x="508.9" y="161.9" font-size="8" text-anchor="end" font-weight="normal" fill="#000" >β-actin(45kDa)</text>
<line x1="634.8" y1="37.8" x2="634.8" y2="76.6" stroke="#333" stroke-width="1" />
<line x1="634.8" y1="84.6" x2="634.8" y2="123.8" stroke="#333" stroke-width="1" />
<line x1="634.8" y1="130.4" x2="634.8" y2="170" stroke="#333" stroke-width="1" />
<text x="638" y="60" font-size="10" text-anchor="start" font-weight="normal" fill="#000" >AGS</text>
<text x="636.4" y="109.2" font-size="10" text-anchor="start" font-weight="normal" fill="#000" >BGC-823</text>
<text x="636.9" y="152.6" font-size="10" text-anchor="start" font-weight="normal" fill="#000" >SGC-7901</text>
<text x="15.5" y="201.9" font-size="10" text-anchor="start" font-weight="normal" fill="#000" >D</text>
<rect x="128.3" y="196.6" width="12.4" height="6.5" fill="#fff" stroke="#000" stroke-width="1.4" />
<text x="143.8" y="203.3" font-size="8" text-anchor="start" font-weight="normal" fill="#000" >con siRNA</text>
<rect x="128.3" y="207.5" width="12.4" height="6.5" fill="#fff" stroke="none" stroke-width="0" />
<clipPath id="c9"><rect x="128.3" y="207.5" width="12.4" height="6.5"/></clipPath>
<path clip-path="url(#c9)" d="M127.3,188.86L141.7,200.94M127.3,193.66L141.7,205.74M127.3,198.46L141.7,210.54M127.3,203.26L141.7,215.34M127.3,208.06L141.7,220.14M127.3,212.86L141.7,224.94M127.3,217.66L141.7,229.74" stroke="#000" stroke-width="1.25" fill="none"/>
<rect x="128.3" y="207.5" width="12.4" height="6.5" fill="none" stroke="#000" stroke-width="1.4" />
<text x="143.8" y="214.2" font-size="8" text-anchor="start" font-weight="normal" fill="#000" >NF-κB siRNA1</text>
<rect x="128.3" y="219.18" width="12.4" height="7.3" fill="#000" stroke="#000" stroke-width="1.4" />
<text x="143.8" y="225.8" font-size="8" text-anchor="start" font-weight="normal" fill="#000" >NF-κB siRNA2</text>
<line x1="38.3" y1="220.75" x2="38.3" y2="334.4" stroke="#000" stroke-width="1.3" />
<line x1="37.8" y1="333.9" x2="217.3" y2="333.9" stroke="#000" stroke-width="1.3" />
<line x1="34.5" y1="333.9" x2="38.3" y2="333.9" stroke="#000" stroke-width="1.3" />
<text x="31.3" y="336.89" font-size="8.3" text-anchor="end" font-weight="bold" fill="#000" >0.0</text>
<line x1="34.5" y1="296.35" x2="38.3" y2="296.35" stroke="#000" stroke-width="1.3" />
<text x="31.3" y="299.34" font-size="8.3" text-anchor="end" font-weight="bold" fill="#000" >0.5</text>
<line x1="34.5" y1="258.8" x2="38.3" y2="258.8" stroke="#000" stroke-width="1.3" />
<text x="31.3" y="261.79" font-size="8.3" text-anchor="end" font-weight="bold" fill="#000" >1.0</text>
<line x1="34.5" y1="221.25" x2="38.3" y2="221.25" stroke="#000" stroke-width="1.3" />
<text x="31.3" y="224.24" font-size="8.3" text-anchor="end" font-weight="bold" fill="#000" >1.5</text>
<line x1="46.8" y1="333.9" x2="46.8" y2="337.7" stroke="#000" stroke-width="1.3" />
<line x1="63.2" y1="333.9" x2="63.2" y2="337.7" stroke="#000" stroke-width="1.3" />
<line x1="79.6" y1="333.9" x2="79.6" y2="337.7" stroke="#000" stroke-width="1.3" />
<line x1="96" y1="333.9" x2="96" y2="337.7" stroke="#000" stroke-width="1.3" />
<line x1="112.4" y1="333.9" x2="112.4" y2="337.7" stroke="#000" stroke-width="1.3" />
<line x1="128.8" y1="333.9" x2="128.8" y2="337.7" stroke="#000" stroke-width="1.3" />
<line x1="145.2" y1="333.9" x2="145.2" y2="337.7" stroke="#000" stroke-width="1.3" />
<line x1="161.6" y1="333.9" x2="161.6" y2="337.7" stroke="#000" stroke-width="1.3" />
<line x1="178" y1="333.9" x2="178" y2="337.7" stroke="#000" stroke-width="1.3" />
<line x1="194.4" y1="333.9" x2="194.4" y2="337.7" stroke="#000" stroke-width="1.3" />
<line x1="210.8" y1="333.9" x2="210.8" y2="337.7" stroke="#000" stroke-width="1.3" />
<text transform="translate(14.5,272) rotate(-90)" font-size="10" text-anchor="middle" fill="#000">NF-κB mRNA level</text>
<line x1="46.8" y1="258.8" x2="46.8" y2="255.5" stroke="#000" stroke-width="1.3" />
<line x1="43.78" y1="255.8" x2="49.82" y2="255.8" stroke="#000" stroke-width="1.5" />
<rect x="41.4" y="258.8" width="10.8" height="75.1" fill="#fff" stroke="#000" stroke-width="1.4" />
<line x1="63.2" y1="298" x2="63.2" y2="295.2" stroke="#000" stroke-width="1.3" />
<line x1="60.18" y1="295.5" x2="66.22" y2="295.5" stroke="#000" stroke-width="1.5" />
<rect x="57.8" y="298" width="10.8" height="35.9" fill="#fff" stroke="none" stroke-width="0" />
<clipPath id="c10"><rect x="57.8" y="298" width="10.8" height="35.9"/></clipPath>
<path clip-path="url(#c10)" d="M56.8,278L69.6,289.52M56.8,284L69.6,295.52M56.8,290L69.6,301.52M56.8,296L69.6,307.52M56.8,302L69.6,313.52M56.8,308L69.6,319.52M56.8,314L69.6,325.52M56.8,320L69.6,331.52M56.8,326L69.6,337.52M56.8,332L69.6,343.52M56.8,338L69.6,349.52" stroke="#000" stroke-width="1.3" fill="none"/>
<rect x="57.8" y="298" width="10.8" height="35.9" fill="none" stroke="#000" stroke-width="1.4" />
<line x1="79.6" y1="303.8" x2="79.6" y2="301.5" stroke="#000" stroke-width="1.3" />
<line x1="76.58" y1="301.8" x2="82.62" y2="301.8" stroke="#000" stroke-width="1.5" />
<rect x="74.2" y="303.8" width="10.8" height="30.1" fill="#000" stroke="#000" stroke-width="1.4" />
<line x1="112.4" y1="258.3" x2="112.4" y2="251.5" stroke="#000" stroke-width="1.3" />
<line x1="109.38" y1="251.8" x2="115.42" y2="251.8" stroke="#000" stroke-width="1.5" />
<rect x="107" y="258.3" width="10.8" height="75.6" fill="#fff" stroke="#000" stroke-width="1.4" />
<line x1="128.8" y1="313" x2="128.8" y2="310.7" stroke="#000" stroke-width="1.3" />
<line x1="125.78" y1="311" x2="131.82" y2="311" stroke="#000" stroke-width="1.5" />
<rect x="123.4" y="313" width="10.8" height="20.9" fill="#fff" stroke="none" stroke-width="0" />
<clipPath id="c11"><rect x="123.4" y="313" width="10.8" height="20.9"/></clipPath>
<path clip-path="url(#c11)" d="M122.4,290L135.2,301.52M122.4,296L135.2,307.52M122.4,302L135.2,313.52M122.4,308L135.2,319.52M122.4,314L135.2,325.52M122.4,320L135.2,331.52M122.4,326L135.2,337.52M122.4,332L135.2,343.52M122.4,338L135.2,349.52" stroke="#000" stroke-width="1.3" fill="none"/>
<rect x="123.4" y="313" width="10.8" height="20.9" fill="none" stroke="#000" stroke-width="1.4" />
<line x1="145.2" y1="310.8" x2="145.2" y2="309.5" stroke="#000" stroke-width="1.3" />
<line x1="142.18" y1="309.8" x2="148.22" y2="309.8" stroke="#000" stroke-width="1.5" />
<rect x="139.8" y="310.8" width="10.8" height="23.1" fill="#000" stroke="#000" stroke-width="1.4" />
<line x1="178" y1="258.3" x2="178" y2="255.5" stroke="#000" stroke-width="1.3" />
<line x1="174.98" y1="255.8" x2="181.02" y2="255.8" stroke="#000" stroke-width="1.5" />
<rect x="172.6" y="258.3" width="10.8" height="75.6" fill="#fff" stroke="#000" stroke-width="1.4" />
<line x1="194.4" y1="325.8" x2="194.4" y2="324.9" stroke="#000" stroke-width="1.3" />
<line x1="191.38" y1="325.2" x2="197.42" y2="325.2" stroke="#000" stroke-width="1.5" />
<rect x="189" y="325.8" width="10.8" height="8.1" fill="#fff" stroke="none" stroke-width="0" />
<clipPath id="c12"><rect x="189" y="325.8" width="10.8" height="8.1"/></clipPath>
<path clip-path="url(#c12)" d="M188,308L200.8,319.52M188,314L200.8,325.52M188,320L200.8,331.52M188,326L200.8,337.52M188,332L200.8,343.52M188,338L200.8,349.52" stroke="#000" stroke-width="1.3" fill="none"/>
<rect x="189" y="325.8" width="10.8" height="8.1" fill="none" stroke="#000" stroke-width="1.4" />
<line x1="210.8" y1="324.5" x2="210.8" y2="323.5" stroke="#000" stroke-width="1.3" />
<line x1="207.78" y1="323.8" x2="213.82" y2="323.8" stroke="#000" stroke-width="1.5" />
<rect x="205.4" y="324.5" width="10.8" height="9.4" fill="#000" stroke="#000" stroke-width="1.4" />
<line x1="41.3" y1="239.5" x2="85.5" y2="239.5" stroke="#111" stroke-width="1.3" />
<line x1="41.3" y1="236.5" x2="41.3" y2="242.5" stroke="#111" stroke-width="1.3" />
<line x1="85.5" y1="236.5" x2="85.5" y2="242.5" stroke="#111" stroke-width="1.3" />
<text x="63.4" y="237.5" font-size="6.2" text-anchor="middle" font-weight="normal" fill="#222" class="p">p=0.0004</text>
<line x1="41.3" y1="248.8" x2="69.5" y2="248.8" stroke="#111" stroke-width="1.3" />
<line x1="41.3" y1="245.8" x2="41.3" y2="251.8" stroke="#111" stroke-width="1.3" />
<line x1="69.5" y1="245.8" x2="69.5" y2="251.8" stroke="#111" stroke-width="1.3" />
<text x="55.4" y="246.8" font-size="6.2" text-anchor="middle" font-weight="normal" fill="#222" class="p">p=0.0008</text>
<line x1="105.5" y1="239.5" x2="149.5" y2="239.5" stroke="#111" stroke-width="1.3" />
<line x1="105.5" y1="236.5" x2="105.5" y2="242.5" stroke="#111" stroke-width="1.3" />
<line x1="149.5" y1="236.5" x2="149.5" y2="242.5" stroke="#111" stroke-width="1.3" />
<text x="127.5" y="237.5" font-size="6.2" text-anchor="middle" font-weight="normal" fill="#222" class="p">p=0.0015</text>
<line x1="105.5" y1="248.8" x2="134.3" y2="248.8" stroke="#111" stroke-width="1.3" />
<line x1="105.5" y1="245.8" x2="105.5" y2="251.8" stroke="#111" stroke-width="1.3" />
<line x1="134.3" y1="245.8" x2="134.3" y2="251.8" stroke="#111" stroke-width="1.3" />
<text x="119.9" y="246.8" font-size="6.2" text-anchor="middle" font-weight="normal" fill="#222" class="p">p=0.0015</text>
<line x1="172" y1="244.5" x2="215.8" y2="244.5" stroke="#111" stroke-width="1.3" />
<line x1="172" y1="241.5" x2="172" y2="247.5" stroke="#111" stroke-width="1.3" />
<line x1="215.8" y1="241.5" x2="215.8" y2="247.5" stroke="#111" stroke-width="1.3" />
<text x="193.9" y="242.5" font-size="6.2" text-anchor="middle" font-weight="normal" fill="#222" class="p">p&lt;0.0001</text>
<line x1="172" y1="252.5" x2="200.8" y2="252.5" stroke="#111" stroke-width="1.3" />
<line x1="172" y1="249.5" x2="172" y2="255.5" stroke="#111" stroke-width="1.3" />
<line x1="200.8" y1="249.5" x2="200.8" y2="255.5" stroke="#111" stroke-width="1.3" />
<text x="186.4" y="250.5" font-size="6.2" text-anchor="middle" font-weight="normal" fill="#222" class="p">p&lt;0.0001</text>
<text x="63" y="351" font-size="10" text-anchor="middle" font-weight="normal" fill="#000" >AGS</text>
<text x="128.2" y="351" font-size="10" text-anchor="middle" font-weight="normal" fill="#000" >BGC-823</text>
<text x="194.6" y="351" font-size="10" text-anchor="middle" font-weight="normal" fill="#000" >SGC-7901</text>
<text x="246.8" y="201.9" font-size="10" text-anchor="start" font-weight="normal" fill="#000" >E</text>
<rect x="350.2" y="199.3" width="12.4" height="6.5" fill="#fff" stroke="#000" stroke-width="1.4" />
<text x="366.3" y="206" font-size="8" text-anchor="start" font-weight="normal" fill="#000" >con siRNA</text>
<rect x="350.2" y="210.6" width="12.4" height="6.5" fill="#fff" stroke="none" stroke-width="0" />
<clipPath id="c13"><rect x="350.2" y="210.6" width="12.4" height="6.5"/></clipPath>
<path clip-path="url(#c13)" d="M349.2,191.96L363.6,204.04M349.2,196.76L363.6,208.84M349.2,201.56L363.6,213.64M349.2,206.36L363.6,218.44M349.2,211.16L363.6,223.24M349.2,215.96L363.6,228.04M349.2,220.76L363.6,232.84" stroke="#000" stroke-width="1.25" fill="none"/>
<rect x="350.2" y="210.6" width="12.4" height="6.5" fill="none" stroke="#000" stroke-width="1.4" />
<text x="366.3" y="217.3" font-size="8" text-anchor="start" font-weight="normal" fill="#000" >NF-κB siRNA1</text>
<rect x="350.2" y="221.68" width="12.4" height="7.3" fill="#000" stroke="#000" stroke-width="1.4" />
<text x="366.3" y="228.3" font-size="8" text-anchor="start" font-weight="normal" fill="#000" >NF-κB siRNA2</text>
<line x1="265" y1="224.5" x2="265" y2="334.1" stroke="#000" stroke-width="1.3" />
<line x1="264.5" y1="333.6" x2="442.6" y2="333.6" stroke="#000" stroke-width="1.3" />
<line x1="261.2" y1="333.6" x2="265" y2="333.6" stroke="#000" stroke-width="1.3" />
<text x="257.9" y="336.59" font-size="8.3" text-anchor="end" font-weight="bold" fill="#000" >0.0</text>
<line x1="261.2" y1="297.4" x2="265" y2="297.4" stroke="#000" stroke-width="1.3" />
<text x="257.9" y="300.39" font-size="8.3" text-anchor="end" font-weight="bold" fill="#000" >0.5</text>
<line x1="261.2" y1="261.2" x2="265" y2="261.2" stroke="#000" stroke-width="1.3" />
<text x="257.9" y="264.19" font-size="8.3" text-anchor="end" font-weight="bold" fill="#000" >1.0</text>
<line x1="261.2" y1="225" x2="265" y2="225" stroke="#000" stroke-width="1.3" />
<text x="257.9" y="227.99" font-size="8.3" text-anchor="end" font-weight="bold" fill="#000" >1.5</text>
<line x1="273.1" y1="333.6" x2="273.1" y2="337.4" stroke="#000" stroke-width="1.3" />
<line x1="289.33" y1="333.6" x2="289.33" y2="337.4" stroke="#000" stroke-width="1.3" />
<line x1="305.56" y1="333.6" x2="305.56" y2="337.4" stroke="#000" stroke-width="1.3" />
<line x1="321.79" y1="333.6" x2="321.79" y2="337.4" stroke="#000" stroke-width="1.3" />
<line x1="338.02" y1="333.6" x2="338.02" y2="337.4" stroke="#000" stroke-width="1.3" />
<line x1="354.25" y1="333.6" x2="354.25" y2="337.4" stroke="#000" stroke-width="1.3" />
<line x1="370.48" y1="333.6" x2="370.48" y2="337.4" stroke="#000" stroke-width="1.3" />
<line x1="386.71" y1="333.6" x2="386.71" y2="337.4" stroke="#000" stroke-width="1.3" />
<line x1="402.94" y1="333.6" x2="402.94" y2="337.4" stroke="#000" stroke-width="1.3" />
<line x1="419.17" y1="333.6" x2="419.17" y2="337.4" stroke="#000" stroke-width="1.3" />
<line x1="435.4" y1="333.6" x2="435.4" y2="337.4" stroke="#000" stroke-width="1.3" />
<text transform="translate(238.9,274.6) rotate(-90)" font-size="10" text-anchor="middle" fill="#000">miR-223-3p expression level</text>
<line x1="273.1" y1="261.3" x2="273.1" y2="259.9" stroke="#000" stroke-width="1.3" />
<line x1="270.1" y1="260.2" x2="276.1" y2="260.2" stroke="#000" stroke-width="1.5" />
<rect x="267.75" y="261.3" width="10.7" height="72.3" fill="#fff" stroke="#000" stroke-width="1.4" />
<line x1="289.33" y1="308" x2="289.33" y2="304.5" stroke="#000" stroke-width="1.3" />
<line x1="286.33" y1="304.8" x2="292.33" y2="304.8" stroke="#000" stroke-width="1.5" />
<rect x="283.98" y="308" width="10.7" height="25.6" fill="#fff" stroke="none" stroke-width="0" />
<clipPath id="c14"><rect x="283.98" y="308" width="10.7" height="25.6"/></clipPath>
<path clip-path="url(#c14)" d="M282.98,289.7L295.68,301.13M282.98,295.7L295.68,307.13M282.98,301.7L295.68,313.13M282.98,307.7L295.68,319.13M282.98,313.7L295.68,325.13M282.98,319.7L295.68,331.13M282.98,325.7L295.68,337.13M282.98,331.7L295.68,343.13M282.98,337.7L295.68,349.13" stroke="#000" stroke-width="1.3" fill="none"/>
<rect x="283.98" y="308" width="10.7" height="25.6" fill="none" stroke="#000" stroke-width="1.4" />
<line x1="305.56" y1="313" x2="305.56" y2="310.5" stroke="#000" stroke-width="1.3" />
<line x1="302.56" y1="310.8" x2="308.56" y2="310.8" stroke="#000" stroke-width="1.5" />
<rect x="300.21" y="313" width="10.7" height="20.6" fill="#000" stroke="#000" stroke-width="1.4" />
<line x1="338.02" y1="260.8" x2="338.02" y2="253" stroke="#000" stroke-width="1.3" />
<line x1="335.02" y1="253.3" x2="341.02" y2="253.3" stroke="#000" stroke-width="1.5" />
<rect x="332.67" y="260.8" width="10.7" height="72.8" fill="#fff" stroke="#000" stroke-width="1.4" />
<line x1="354.25" y1="330.2" x2="354.25" y2="329.3" stroke="#000" stroke-width="1.3" />
<line x1="351.25" y1="329.6" x2="357.25" y2="329.6" stroke="#000" stroke-width="1.5" />
<rect x="348.9" y="330.2" width="10.7" height="3.4" fill="#fff" stroke="none" stroke-width="0" />
<clipPath id="c15"><rect x="348.9" y="330.2" width="10.7" height="3.4"/></clipPath>
<path clip-path="url(#c15)" d="M347.9,307.7L360.6,319.13M347.9,313.7L360.6,325.13M347.9,319.7L360.6,331.13M347.9,325.7L360.6,337.13M347.9,331.7L360.6,343.13M347.9,337.7L360.6,349.13" stroke="#000" stroke-width="1.3" fill="none"/>
<rect x="348.9" y="330.2" width="10.7" height="3.4" fill="none" stroke="#000" stroke-width="1.4" />
<line x1="370.48" y1="288" x2="370.48" y2="282.2" stroke="#000" stroke-width="1.3" />
<line x1="367.48" y1="282.5" x2="373.48" y2="282.5" stroke="#000" stroke-width="1.5" />
<rect x="365.13" y="288" width="10.7" height="45.6" fill="#000" stroke="#000" stroke-width="1.4" />
<line x1="402.94" y1="260.6" x2="402.94" y2="258" stroke="#000" stroke-width="1.3" />
<line x1="399.94" y1="258.3" x2="405.94" y2="258.3" stroke="#000" stroke-width="1.5" />
<rect x="397.59" y="260.6" width="10.7" height="73" fill="#fff" stroke="#000" stroke-width="1.4" />
<line x1="419.17" y1="297" x2="419.17" y2="291.7" stroke="#000" stroke-width="1.3" />
<line x1="416.17" y1="292" x2="422.17" y2="292" stroke="#000" stroke-width="1.5" />
<rect x="413.82" y="297" width="10.7" height="36.6" fill="#fff" stroke="none" stroke-width="0" />
<clipPath id="c16"><rect x="413.82" y="297" width="10.7" height="36.6"/></clipPath>
<path clip-path="url(#c16)" d="M412.82,277.7L425.52,289.13M412.82,283.7L425.52,295.13M412.82,289.7L425.52,301.13M412.82,295.7L425.52,307.13M412.82,301.7L425.52,313.13M412.82,307.7L425.52,319.13M412.82,313.7L425.52,325.13M412.82,319.7L425.52,331.13M412.82,325.7L425.52,337.13M412.82,331.7L425.52,343.13M412.82,337.7L425.52,349.13" stroke="#000" stroke-width="1.3" fill="none"/>
<rect x="413.82" y="297" width="10.7" height="36.6" fill="none" stroke="#000" stroke-width="1.4" />
<line x1="435.4" y1="274.3" x2="435.4" y2="272.9" stroke="#000" stroke-width="1.3" />
<line x1="432.4" y1="273.2" x2="438.4" y2="273.2" stroke="#000" stroke-width="1.5" />
<rect x="430.05" y="274.3" width="10.7" height="59.3" fill="#000" stroke="#000" stroke-width="1.4" />
<line x1="267.5" y1="239.3" x2="311.8" y2="239.3" stroke="#111" stroke-width="1.3" />
<line x1="267.5" y1="236.3" x2="267.5" y2="242.3" stroke="#111" stroke-width="1.3" />
<line x1="311.8" y1="236.3" x2="311.8" y2="242.3" stroke="#111" stroke-width="1.3" />
<text x="289.65" y="237.3" font-size="6.2" text-anchor="middle" font-weight="normal" fill="#222" class="p">p&lt;0.0001</text>
<line x1="267.5" y1="248.8" x2="295.8" y2="248.8" stroke="#111" stroke-width="1.3" />
<line x1="267.5" y1="245.8" x2="267.5" y2="251.8" stroke="#111" stroke-width="1.3" />
<line x1="295.8" y1="245.8" x2="295.8" y2="251.8" stroke="#111" stroke-width="1.3" />
<text x="281.65" y="246.8" font-size="6.2" text-anchor="middle" font-weight="normal" fill="#222" class="p">p=0.0002</text>
<line x1="331.3" y1="241.3" x2="375" y2="241.3" stroke="#111" stroke-width="1.3" />
<line x1="331.3" y1="238.3" x2="331.3" y2="244.3" stroke="#111" stroke-width="1.3" />
<line x1="375" y1="238.3" x2="375" y2="244.3" stroke="#111" stroke-width="1.3" />
<text x="353.15" y="239.3" font-size="6.2" text-anchor="middle" font-weight="normal" fill="#222" class="p">p=0.0438</text>
<line x1="331.3" y1="250.5" x2="359.5" y2="250.5" stroke="#111" stroke-width="1.3" />
<line x1="331.3" y1="247.5" x2="331.3" y2="253.5" stroke="#111" stroke-width="1.3" />
<line x1="359.5" y1="247.5" x2="359.5" y2="253.5" stroke="#111" stroke-width="1.3" />
<text x="345.4" y="248.5" font-size="6.2" text-anchor="middle" font-weight="normal" fill="#222" class="p">p=0.0007</text>
<line x1="397" y1="246.3" x2="440.8" y2="246.3" stroke="#111" stroke-width="1.3" />
<line x1="397" y1="243.3" x2="397" y2="249.3" stroke="#111" stroke-width="1.3" />
<line x1="440.8" y1="243.3" x2="440.8" y2="249.3" stroke="#111" stroke-width="1.3" />
<text x="418.9" y="244.3" font-size="6.2" text-anchor="middle" font-weight="normal" fill="#222" class="p">p=0.0031</text>
<line x1="397" y1="254.3" x2="425.8" y2="254.3" stroke="#111" stroke-width="1.3" />
<line x1="397" y1="251.3" x2="397" y2="257.3" stroke="#111" stroke-width="1.3" />
<line x1="425.8" y1="251.3" x2="425.8" y2="257.3" stroke="#111" stroke-width="1.3" />
<text x="411.4" y="252.3" font-size="6.2" text-anchor="middle" font-weight="normal" fill="#222" class="p">p=0.0108</text>
<text x="290.2" y="351" font-size="10" text-anchor="middle" font-weight="normal" fill="#000" >AGS</text>
<text x="353.9" y="351" font-size="10" text-anchor="middle" font-weight="normal" fill="#000" >BGC-823</text>
<text x="419.2" y="351" font-size="10" text-anchor="middle" font-weight="normal" fill="#000" >SGC-7901</text>
<text x="466.3" y="202.2" font-size="10" text-anchor="start" font-weight="normal" fill="#000" >F</text>
<text x="474.2" y="244.1" font-size="9.7" text-anchor="start" font-weight="normal" fill="#000" >miR-223-3p promoter</text>
<line x1="487" y1="261.2" x2="500.6" y2="261.2" stroke="#4a4a4a" stroke-width="0.8" />
<polyline points="497.6,259 500.8,261.2 497.6,263.4" fill="none" stroke="#4a4a4a" stroke-width="0.8"/>
<line x1="535.2" y1="261.2" x2="549.2" y2="261.2" stroke="#4a4a4a" stroke-width="0.8" />
<polyline points="538.4,259 535.2,261.2 538.4,263.4" fill="none" stroke="#4a4a4a" stroke-width="0.8"/>
<text x="504.4" y="265.1" font-size="9.8" text-anchor="start" font-weight="normal" fill="#000" >NF-κB</text>
<line x1="498.3" y1="269.5" x2="485" y2="287.6" stroke="#4a4a4a" stroke-width="0.7" />
<line x1="540.8" y1="269.5" x2="556.3" y2="288.3" stroke="#4a4a4a" stroke-width="0.7" />
<line x1="470.5" y1="269.2" x2="676" y2="269.2" stroke="#000" stroke-width="1.65" />
<polyline points="583.2,269 583.2,251.8 621.6,251.8" fill="none" stroke="#4a4a4a" stroke-width="0.8"/>
<polyline points="618.4,249.6 621.8,251.8 618.4,254" fill="none" stroke="#4a4a4a" stroke-width="0.8"/>
<text x="580.6" y="279.6" font-size="8.2" text-anchor="start" font-weight="normal" fill="#000" >+1</text>
<rect x="602" y="260.8" width="52.8" height="16.8" fill="#fff" stroke="#555" stroke-width="0.8" />
<text x="628.2" y="272.1" font-size="9.8" text-anchor="middle" font-weight="normal" fill="#000" >luciferase</text>
<text x="488" y="290.6" font-size="7.5" text-anchor="start" font-weight="normal" fill="#000" textLength="64" lengthAdjust="spacingAndGlyphs">tattCTGGGAAaacc</text>
<text x="466.2" y="304.4" font-size="8.2" text-anchor="start" font-weight="normal" fill="#000" >-295bp</text>
<text x="551.2" y="304.4" font-size="8.2" text-anchor="start" font-weight="normal" fill="#000" >-280bp</text>
<text x="18.4" y="375.5" font-size="10" text-anchor="start" font-weight="normal" fill="#000" >G(1)</text>
<rect x="129.8" y="370.9" width="11.8" height="5.7" fill="#fff" stroke="#000" stroke-width="1.4" />
<text x="144.3" y="376.3" font-size="7.95" text-anchor="start" font-weight="normal" fill="#000" >con siRNA</text>
<rect x="129.8" y="381.4" width="11.8" height="5.7" fill="#fff" stroke="none" stroke-width="0" />
<clipPath id="c17"><rect x="129.8" y="381.4" width="11.8" height="5.7"/></clipPath>
<path clip-path="url(#c17)" d="M128.8,361.96L142.6,373.54M128.8,366.76L142.6,378.34M128.8,371.56L142.6,383.14M128.8,376.36L142.6,387.94M128.8,381.16L142.6,392.74M128.8,385.96L142.6,397.54M128.8,390.76L142.6,402.34" stroke="#000" stroke-width="1.25" fill="none"/>
<rect x="129.8" y="381.4" width="11.8" height="5.7" fill="none" stroke="#000" stroke-width="1.4" />
<text x="144.3" y="386.8" font-size="7.95" text-anchor="start" font-weight="normal" fill="#000" >NF-κB siRNA1</text>
<rect x="129.8" y="392.3" width="11.8" height="5.7" fill="#000" stroke="#000" stroke-width="1.4" />
<text x="144.3" y="397.3" font-size="7.95" text-anchor="start" font-weight="normal" fill="#000" >NF-κB siRNA2</text>
<line x1="38" y1="399" x2="38" y2="506.3" stroke="#000" stroke-width="1.3" />
<line x1="37.5" y1="505.8" x2="217.2" y2="505.8" stroke="#000" stroke-width="1.3" />
<line x1="34.7" y1="505.8" x2="38" y2="505.8" stroke="#000" stroke-width="1.3" />
<text x="32.4" y="508.79" font-size="8.3" text-anchor="end" font-weight="bold" fill="#000" >0</text>
<line x1="34.7" y1="484.54" x2="38" y2="484.54" stroke="#000" stroke-width="1.3" />
<text x="32.4" y="487.53" font-size="8.3" text-anchor="end" font-weight="bold" fill="#000" >2</text>
<line x1="34.7" y1="463.28" x2="38" y2="463.28" stroke="#000" stroke-width="1.3" />
<text x="32.4" y="466.27" font-size="8.3" text-anchor="end" font-weight="bold" fill="#000" >4</text>
<line x1="34.7" y1="442.02" x2="38" y2="442.02" stroke="#000" stroke-width="1.3" />
<text x="32.4" y="445.01" font-size="8.3" text-anchor="end" font-weight="bold" fill="#000" >6</text>
<line x1="34.7" y1="420.76" x2="38" y2="420.76" stroke="#000" stroke-width="1.3" />
<text x="32.4" y="423.75" font-size="8.3" text-anchor="end" font-weight="bold" fill="#000" >8</text>
<line x1="34.7" y1="399.5" x2="38" y2="399.5" stroke="#000" stroke-width="1.3" />
<text x="32.4" y="402.49" font-size="8.3" text-anchor="end" font-weight="bold" fill="#000" >10</text>
<line x1="50.7" y1="505.8" x2="50.7" y2="509.6" stroke="#000" stroke-width="1.3" />
<line x1="76.2" y1="505.8" x2="76.2" y2="509.6" stroke="#000" stroke-width="1.3" />
<line x1="101.7" y1="505.8" x2="101.7" y2="509.6" stroke="#000" stroke-width="1.3" />
<line x1="127.2" y1="505.8" x2="127.2" y2="509.6" stroke="#000" stroke-width="1.3" />
<line x1="152.7" y1="505.8" x2="152.7" y2="509.6" stroke="#000" stroke-width="1.3" />
<line x1="178.2" y1="505.8" x2="178.2" y2="509.6" stroke="#000" stroke-width="1.3" />
<line x1="203.7" y1="505.8" x2="203.7" y2="509.6" stroke="#000" stroke-width="1.3" />
<text transform="translate(15.8,447.5) rotate(-90)" font-size="10" text-anchor="middle" fill="#000">Luciferase activity (M1/M2)</text>
<line x1="50.7" y1="425.5" x2="50.7" y2="424.1" stroke="#000" stroke-width="1.3" />
<line x1="46.05" y1="424.4" x2="55.35" y2="424.4" stroke="#000" stroke-width="1.5" />
<rect x="42.4" y="425.5" width="16.6" height="80.3" fill="#fff" stroke="#000" stroke-width="1.4" />
<line x1="76.2" y1="451.1" x2="76.2" y2="449.7" stroke="#000" stroke-width="1.3" />
<line x1="71.55" y1="450" x2="80.85" y2="450" stroke="#000" stroke-width="1.5" />
<rect x="67.9" y="451.1" width="16.6" height="54.7" fill="#fff" stroke="none" stroke-width="0" />
<clipPath id="c18"><rect x="67.9" y="451.1" width="16.6" height="54.7"/></clipPath>
<path clip-path="url(#c18)" d="M66.9,427.7L85.5,444.45M66.9,432.7L85.5,449.45M66.9,437.7L85.5,454.45M66.9,442.7L85.5,459.45M66.9,447.7L85.5,464.45M66.9,452.7L85.5,469.45M66.9,457.7L85.5,474.45M66.9,462.7L85.5,479.45M66.9,467.7L85.5,484.45M66.9,472.7L85.5,489.45M66.9,477.7L85.5,494.45M66.9,482.7L85.5,499.45M66.9,487.7L85.5,504.45M66.9,492.7L85.5,509.45M66.9,497.7L85.5,514.45M66.9,502.7L85.5,519.45M66.9,507.7L85.5,524.45" stroke="#000" stroke-width="1.2" fill="none"/>
<rect x="67.9" y="451.1" width="16.6" height="54.7" fill="none" stroke="#000" stroke-width="1.4" />
<line x1="101.7" y1="450" x2="101.7" y2="445.7" stroke="#000" stroke-width="1.3" />
<line x1="97.05" y1="446" x2="106.35" y2="446" stroke="#000" stroke-width="1.5" />
<rect x="93.4" y="450" width="16.6" height="55.8" fill="#000" stroke="#000" stroke-width="1.4" />
<line x1="152.7" y1="426.4" x2="152.7" y2="421.7" stroke="#000" stroke-width="1.3" />
<line x1="148.05" y1="422" x2="157.35" y2="422" stroke="#000" stroke-width="1.5" />
<rect x="144.4" y="426.4" width="16.6" height="79.4" fill="#fff" stroke="#000" stroke-width="1.4" />
<line x1="178.2" y1="424.6" x2="178.2" y2="422.7" stroke="#000" stroke-width="1.3" />
<line x1="173.55" y1="423" x2="182.85" y2="423" stroke="#000" stroke-width="1.5" />
<rect x="169.9" y="424.6" width="16.6" height="81.2" fill="#fff" stroke="none" stroke-width="0" />
<clipPath id="c19"><rect x="169.9" y="424.6" width="16.6" height="81.2"/></clipPath>
<path clip-path="url(#c19)" d="M168.9,399.4L187.5,418M168.9,403.7L187.5,422.3M168.9,408L187.5,426.6M168.9,412.3L187.5,430.9M168.9,416.6L187.5,435.2M168.9,420.9L187.5,439.5M168.9,425.2L187.5,443.8M168.9,429.5L187.5,448.1M168.9,433.8L187.5,452.4M168.9,438.1L187.5,456.7M168.9,442.4L187.5,461M168.9,446.7L187.5,465.3M168.9,451L187.5,469.6M168.9,455.3L187.5,473.9M168.9,459.6L187.5,478.2M168.9,463.9L187.5,482.5M168.9,468.2L187.5,486.8M168.9,472.5L187.5,491.1M168.9,476.8L187.5,495.4M168.9,481.1L187.5,499.7M168.9,485.4L187.5,504M168.9,489.7L187.5,508.3M168.9,494L187.5,512.6M168.9,498.3L187.5,516.9M168.9,502.6L187.5,521.2M168.9,506.9L187.5,525.5" stroke="#000" stroke-width="1.15" fill="none"/>
<rect x="169.9" y="424.6" width="16.6" height="81.2" fill="none" stroke="#000" stroke-width="1.4" />
<line x1="203.7" y1="436.3" x2="203.7" y2="433.5" stroke="#000" stroke-width="1.3" />
<line x1="199.05" y1="433.8" x2="208.35" y2="433.8" stroke="#000" stroke-width="1.5" />
<rect x="195.4" y="436.3" width="16.6" height="69.5" fill="#000" stroke="#000" stroke-width="1.4" />
<line x1="45.5" y1="408.8" x2="101.3" y2="408.8" stroke="#111" stroke-width="1.3" />
<line x1="45.5" y1="406" x2="45.5" y2="411.6" stroke="#111" stroke-width="1.3" />
<line x1="101.3" y1="406" x2="101.3" y2="411.6" stroke="#111" stroke-width="1.3" />
<text x="73.4" y="406.8" font-size="7.5" text-anchor="middle" font-weight="normal" fill="#222" class="p">p=0.0032</text>
<line x1="45.5" y1="419.3" x2="80" y2="419.3" stroke="#111" stroke-width="1.3" />
<line x1="45.5" y1="416.5" x2="45.5" y2="422.1" stroke="#111" stroke-width="1.3" />
<line x1="80" y1="416.5" x2="80" y2="422.1" stroke="#111" stroke-width="1.3" />
<text x="62.75" y="417.3" font-size="7.5" text-anchor="middle" font-weight="normal" fill="#222" class="p">p=0.0002</text>
<line x1="148" y1="408.8" x2="203.8" y2="408.8" stroke="#111" stroke-width="1.3" />
<line x1="148" y1="406" x2="148" y2="411.6" stroke="#111" stroke-width="1.3" />
<line x1="203.8" y1="406" x2="203.8" y2="411.6" stroke="#111" stroke-width="1.3" />
<text x="175.9" y="406.8" font-size="7.5" text-anchor="middle" font-weight="normal" fill="#222" class="p">p=0.0984</text>
<line x1="148" y1="419.5" x2="182.5" y2="419.5" stroke="#111" stroke-width="1.3" />
<line x1="148" y1="416.7" x2="148" y2="422.3" stroke="#111" stroke-width="1.3" />
<line x1="182.5" y1="416.7" x2="182.5" y2="422.3" stroke="#111" stroke-width="1.3" />
<text x="165.25" y="417.5" font-size="7.5" text-anchor="middle" font-weight="normal" fill="#222" class="p">p=0.7204</text>
<text x="76.9" y="520.2" font-size="7.8" text-anchor="middle" font-weight="normal" fill="#000" >WT</text>
<text x="178" y="520.2" font-size="7.8" text-anchor="middle" font-weight="normal" fill="#000" >Mut</text>
<text x="128.1" y="528.9" font-size="10" text-anchor="middle" font-weight="normal" fill="#000" >AGS</text>
<text x="244.1" y="377.8" font-size="10" text-anchor="start" font-weight="normal" fill="#000" >G(2)</text>
<rect x="364.2" y="374.5" width="11.8" height="5.7" fill="#fff" stroke="#000" stroke-width="1.4" />
<text x="379.1" y="379.9" font-size="7.95" text-anchor="start" font-weight="normal" fill="#000" >con siRNA</text>
<rect x="364.2" y="384.5" width="11.8" height="5.7" fill="#fff" stroke="none" stroke-width="0" />
<clipPath id="c20"><rect x="364.2" y="384.5" width="11.8" height="5.7"/></clipPath>
<path clip-path="url(#c20)" d="M363.2,365.06L377,376.64M363.2,369.86L377,381.44M363.2,374.66L377,386.24M363.2,379.46L377,391.04M363.2,384.26L377,395.84M363.2,389.06L377,400.64M363.2,393.86L377,405.44" stroke="#000" stroke-width="1.25" fill="none"/>
<rect x="364.2" y="384.5" width="11.8" height="5.7" fill="none" stroke="#000" stroke-width="1.4" />
<text x="379.1" y="389.9" font-size="7.95" text-anchor="start" font-weight="normal" fill="#000" >NF-κB siRNA1</text>
<rect x="364.2" y="394.2" width="11.8" height="5.7" fill="#000" stroke="#000" stroke-width="1.4" />
<text x="379.1" y="399.2" font-size="7.95" text-anchor="start" font-weight="normal" fill="#000" >NF-κB siRNA2</text>
<line x1="265.1" y1="398.75" x2="265.1" y2="505.6" stroke="#000" stroke-width="1.3" />
<line x1="264.6" y1="505.1" x2="445.6" y2="505.1" stroke="#000" stroke-width="1.3" />
<line x1="261.8" y1="505.1" x2="265.1" y2="505.1" stroke="#000" stroke-width="1.3" />
<text x="259.5" y="508.09" font-size="8.3" text-anchor="end" font-weight="bold" fill="#000" >0</text>
<line x1="261.8" y1="483.93" x2="265.1" y2="483.93" stroke="#000" stroke-width="1.3" />
<text x="259.5" y="486.92" font-size="8.3" text-anchor="end" font-weight="bold" fill="#000" >2</text>
<line x1="261.8" y1="462.76" x2="265.1" y2="462.76" stroke="#000" stroke-width="1.3" />
<text x="259.5" y="465.75" font-size="8.3" text-anchor="end" font-weight="bold" fill="#000" >4</text>
<line x1="261.8" y1="441.59" x2="265.1" y2="441.59" stroke="#000" stroke-width="1.3" />
<text x="259.5" y="444.58" font-size="8.3" text-anchor="end" font-weight="bold" fill="#000" >6</text>
<line x1="261.8" y1="420.42" x2="265.1" y2="420.42" stroke="#000" stroke-width="1.3" />
<text x="259.5" y="423.41" font-size="8.3" text-anchor="end" font-weight="bold" fill="#000" >8</text>
<line x1="261.8" y1="399.25" x2="265.1" y2="399.25" stroke="#000" stroke-width="1.3" />
<text x="259.5" y="402.24" font-size="8.3" text-anchor="end" font-weight="bold" fill="#000" >10</text>
<line x1="277.9" y1="505.1" x2="277.9" y2="508.9" stroke="#000" stroke-width="1.3" />
<line x1="303.6" y1="505.1" x2="303.6" y2="508.9" stroke="#000" stroke-width="1.3" />
<line x1="329.3" y1="505.1" x2="329.3" y2="508.9" stroke="#000" stroke-width="1.3" />
<line x1="355" y1="505.1" x2="355" y2="508.9" stroke="#000" stroke-width="1.3" />
<line x1="380.7" y1="505.1" x2="380.7" y2="508.9" stroke="#000" stroke-width="1.3" />
<line x1="406.4" y1="505.1" x2="406.4" y2="508.9" stroke="#000" stroke-width="1.3" />
<line x1="432.1" y1="505.1" x2="432.1" y2="508.9" stroke="#000" stroke-width="1.3" />
<text transform="translate(242,445.8) rotate(-90)" font-size="10" text-anchor="middle" fill="#000">Luciferase activity (M1/M2)</text>
<line x1="277.9" y1="428.8" x2="277.9" y2="424.7" stroke="#000" stroke-width="1.3" />
<line x1="273.22" y1="425" x2="282.58" y2="425" stroke="#000" stroke-width="1.5" />
<rect x="269.55" y="428.8" width="16.7" height="76.3" fill="#fff" stroke="#000" stroke-width="1.4" />
<line x1="303.6" y1="454.5" x2="303.6" y2="449" stroke="#000" stroke-width="1.3" />
<line x1="298.92" y1="449.3" x2="308.28" y2="449.3" stroke="#000" stroke-width="1.5" />
<rect x="295.25" y="454.5" width="16.7" height="50.6" fill="#fff" stroke="none" stroke-width="0" />
<clipPath id="c21"><rect x="295.25" y="454.5" width="16.7" height="50.6"/></clipPath>
<path clip-path="url(#c21)" d="M294.25,427L312.95,443.84M294.25,432L312.95,448.84M294.25,437L312.95,453.84M294.25,442L312.95,458.84M294.25,447L312.95,463.84M294.25,452L312.95,468.84M294.25,457L312.95,473.84M294.25,462L312.95,478.84M294.25,467L312.95,483.84M294.25,472L312.95,488.84M294.25,477L312.95,493.84M294.25,482L312.95,498.84M294.25,487L312.95,503.84M294.25,492L312.95,508.84M294.25,497L312.95,513.84M294.25,502L312.95,518.84M294.25,507L312.95,523.84" stroke="#000" stroke-width="1.2" fill="none"/>
<rect x="295.25" y="454.5" width="16.7" height="50.6" fill="none" stroke="#000" stroke-width="1.4" />
<line x1="329.3" y1="463" x2="329.3" y2="462.1" stroke="#000" stroke-width="1.3" />
<line x1="324.62" y1="462.4" x2="333.98" y2="462.4" stroke="#000" stroke-width="1.5" />
<rect x="320.95" y="463" width="16.7" height="42.1" fill="#000" stroke="#000" stroke-width="1.4" />
<line x1="380.7" y1="425.5" x2="380.7" y2="422.7" stroke="#000" stroke-width="1.3" />
<line x1="376.02" y1="423" x2="385.38" y2="423" stroke="#000" stroke-width="1.5" />
<rect x="372.35" y="425.5" width="16.7" height="79.6" fill="#fff" stroke="#000" stroke-width="1.4" />
<line x1="406.4" y1="432" x2="406.4" y2="430.3" stroke="#000" stroke-width="1.3" />
<line x1="401.72" y1="430.6" x2="411.08" y2="430.6" stroke="#000" stroke-width="1.5" />
<rect x="398.05" y="432" width="16.7" height="73.1" fill="#fff" stroke="none" stroke-width="0" />
<clipPath id="c22"><rect x="398.05" y="432" width="16.7" height="73.1"/></clipPath>
<path clip-path="url(#c22)" d="M397.05,407.3L415.75,426M397.05,411.6L415.75,430.3M397.05,415.9L415.75,434.6M397.05,420.2L415.75,438.9M397.05,424.5L415.75,443.2M397.05,428.8L415.75,447.5M397.05,433.1L415.75,451.8M397.05,437.4L415.75,456.1M397.05,441.7L415.75,460.4M397.05,446L415.75,464.7M397.05,450.3L415.75,469M397.05,454.6L415.75,473.3M397.05,458.9L415.75,477.6M397.05,463.2L415.75,481.9M397.05,467.5L415.75,486.2M397.05,471.8L415.75,490.5M397.05,476.1L415.75,494.8M397.05,480.4L415.75,499.1M397.05,484.7L415.75,503.4M397.05,489L415.75,507.7M397.05,493.3L415.75,512M397.05,497.6L415.75,516.3M397.05,501.9L415.75,520.6M397.05,506.2L415.75,524.9" stroke="#000" stroke-width="1.15" fill="none"/>
<rect x="398.05" y="432" width="16.7" height="73.1" fill="none" stroke="#000" stroke-width="1.4" />
<line x1="432.1" y1="432.5" x2="432.1" y2="425.2" stroke="#000" stroke-width="1.3" />
<line x1="427.42" y1="425.5" x2="436.78" y2="425.5" stroke="#000" stroke-width="1.5" />
<rect x="423.75" y="432.5" width="16.7" height="72.6" fill="#000" stroke="#000" stroke-width="1.4" />
<line x1="275" y1="411.8" x2="327" y2="411.8" stroke="#111" stroke-width="1.3" />
<line x1="275" y1="409" x2="275" y2="414.6" stroke="#111" stroke-width="1.3" />
<line x1="327" y1="409" x2="327" y2="414.6" stroke="#111" stroke-width="1.3" />
<text x="301" y="409.8" font-size="7.5" text-anchor="middle" font-weight="normal" fill="#222" class="p">p&lt;0.0001</text>
<line x1="275" y1="420.5" x2="308.3" y2="420.5" stroke="#111" stroke-width="1.3" />
<line x1="275" y1="417.7" x2="275" y2="423.3" stroke="#111" stroke-width="1.3" />
<line x1="308.3" y1="417.7" x2="308.3" y2="423.3" stroke="#111" stroke-width="1.3" />
<text x="291.65" y="418.5" font-size="7.5" text-anchor="middle" font-weight="normal" fill="#222" class="p">p=0.0038</text>
<line x1="375.8" y1="409.5" x2="426.3" y2="409.5" stroke="#111" stroke-width="1.3" />
<line x1="375.8" y1="406.7" x2="375.8" y2="412.3" stroke="#111" stroke-width="1.3" />
<line x1="426.3" y1="406.7" x2="426.3" y2="412.3" stroke="#111" stroke-width="1.3" />
<text x="401.05" y="407.5" font-size="7.5" text-anchor="middle" font-weight="normal" fill="#222" class="p">p=0.3783</text>
<line x1="375.8" y1="418.8" x2="411.3" y2="418.8" stroke="#111" stroke-width="1.3" />
<line x1="375.8" y1="416" x2="375.8" y2="421.6" stroke="#111" stroke-width="1.3" />
<line x1="411.3" y1="416" x2="411.3" y2="421.6" stroke="#111" stroke-width="1.3" />
<text x="393.55" y="416.8" font-size="7.5" text-anchor="middle" font-weight="normal" fill="#222" class="p">p=0.0597</text>
<text x="303.1" y="520.2" font-size="7.8" text-anchor="middle" font-weight="normal" fill="#000" >WT</text>
<text x="406.2" y="520.2" font-size="7.8" text-anchor="middle" font-weight="normal" fill="#000" >Mut</text>
<text x="355.1" y="528.9" font-size="10" text-anchor="middle" font-weight="normal" fill="#000" >BGC-823</text>
<text x="474.6" y="378.1" font-size="10" text-anchor="start" font-weight="normal" fill="#000" >G(3)</text>
<rect x="595.9" y="375" width="11.8" height="5.7" fill="#fff" stroke="#000" stroke-width="1.4" />
<text x="609.7" y="380.4" font-size="7.95" text-anchor="start" font-weight="normal" fill="#000" >con siRNA</text>
<rect x="595.9" y="385" width="11.8" height="5.7" fill="#fff" stroke="none" stroke-width="0" />
<clipPath id="c23"><rect x="595.9" y="385" width="11.8" height="5.7"/></clipPath>
<path clip-path="url(#c23)" d="M594.9,365.56L608.7,377.14M594.9,370.36L608.7,381.94M594.9,375.16L608.7,386.74M594.9,379.96L608.7,391.54M594.9,384.76L608.7,396.34M594.9,389.56L608.7,401.14M594.9,394.36L608.7,405.94" stroke="#000" stroke-width="1.25" fill="none"/>
<rect x="595.9" y="385" width="11.8" height="5.7" fill="none" stroke="#000" stroke-width="1.4" />
<text x="609.7" y="390.4" font-size="7.95" text-anchor="start" font-weight="normal" fill="#000" >NF-κB siRNA1</text>
<rect x="595.9" y="394.7" width="11.8" height="5.7" fill="#000" stroke="#000" stroke-width="1.4" />
<text x="609.7" y="399.7" font-size="7.95" text-anchor="start" font-weight="normal" fill="#000" >NF-κB siRNA2</text>
<line x1="497.9" y1="399" x2="497.9" y2="505.6" stroke="#000" stroke-width="1.3" />
<line x1="497.4" y1="505.1" x2="676.3" y2="505.1" stroke="#000" stroke-width="1.3" />
<line x1="494.6" y1="505.1" x2="497.9" y2="505.1" stroke="#000" stroke-width="1.3" />
<text x="492.3" y="508.09" font-size="8.3" text-anchor="end" font-weight="bold" fill="#000" >0</text>
<line x1="494.6" y1="483.98" x2="497.9" y2="483.98" stroke="#000" stroke-width="1.3" />
<text x="492.3" y="486.97" font-size="8.3" text-anchor="end" font-weight="bold" fill="#000" >2</text>
<line x1="494.6" y1="462.86" x2="497.9" y2="462.86" stroke="#000" stroke-width="1.3" />
<text x="492.3" y="465.85" font-size="8.3" text-anchor="end" font-weight="bold" fill="#000" >4</text>
<line x1="494.6" y1="441.74" x2="497.9" y2="441.74" stroke="#000" stroke-width="1.3" />
<text x="492.3" y="444.73" font-size="8.3" text-anchor="end" font-weight="bold" fill="#000" >6</text>
<line x1="494.6" y1="420.62" x2="497.9" y2="420.62" stroke="#000" stroke-width="1.3" />
<text x="492.3" y="423.61" font-size="8.3" text-anchor="end" font-weight="bold" fill="#000" >8</text>
<line x1="494.6" y1="399.5" x2="497.9" y2="399.5" stroke="#000" stroke-width="1.3" />
<text x="492.3" y="402.49" font-size="8.3" text-anchor="end" font-weight="bold" fill="#000" >10</text>
<line x1="510.4" y1="505.1" x2="510.4" y2="508.9" stroke="#000" stroke-width="1.3" />
<line x1="535.62" y1="505.1" x2="535.62" y2="508.9" stroke="#000" stroke-width="1.3" />
<line x1="560.84" y1="505.1" x2="560.84" y2="508.9" stroke="#000" stroke-width="1.3" />
<line x1="586.06" y1="505.1" x2="586.06" y2="508.9" stroke="#000" stroke-width="1.3" />
<line x1="611.28" y1="505.1" x2="611.28" y2="508.9" stroke="#000" stroke-width="1.3" />
<line x1="636.5" y1="505.1" x2="636.5" y2="508.9" stroke="#000" stroke-width="1.3" />
<line x1="661.72" y1="505.1" x2="661.72" y2="508.9" stroke="#000" stroke-width="1.3" />
<text transform="translate(476.8,446) rotate(-90)" font-size="10" text-anchor="middle" fill="#000">Luciferase activity (M1/M2)</text>
<line x1="510.4" y1="428" x2="510.4" y2="426.5" stroke="#000" stroke-width="1.3" />
<line x1="505.67" y1="426.8" x2="515.13" y2="426.8" stroke="#000" stroke-width="1.5" />
<rect x="501.95" y="428" width="16.9" height="77.1" fill="#fff" stroke="#000" stroke-width="1.4" />
<line x1="535.62" y1="467" x2="535.62" y2="460.5" stroke="#000" stroke-width="1.3" />
<line x1="530.89" y1="460.8" x2="540.35" y2="460.8" stroke="#000" stroke-width="1.5" />
<rect x="527.17" y="467" width="16.9" height="38.1" fill="#fff" stroke="none" stroke-width="0" />
<clipPath id="c24"><rect x="527.17" y="467" width="16.9" height="38.1"/></clipPath>
<path clip-path="url(#c24)" d="M526.17,442L545.07,459.02M526.17,447L545.07,464.02M526.17,452L545.07,469.02M526.17,457L545.07,474.02M526.17,462L545.07,479.02M526.17,467L545.07,484.02M526.17,472L545.07,489.02M526.17,477L545.07,494.02M526.17,482L545.07,499.02M526.17,487L545.07,504.02M526.17,492L545.07,509.02M526.17,497L545.07,514.02M526.17,502L545.07,519.02M526.17,507L545.07,524.02" stroke="#000" stroke-width="1.2" fill="none"/>
<rect x="527.17" y="467" width="16.9" height="38.1" fill="none" stroke="#000" stroke-width="1.4" />
<line x1="560.84" y1="480.5" x2="560.84" y2="477.7" stroke="#000" stroke-width="1.3" />
<line x1="556.11" y1="478" x2="565.57" y2="478" stroke="#000" stroke-width="1.5" />
<rect x="552.39" y="480.5" width="16.9" height="24.6" fill="#000" stroke="#000" stroke-width="1.4" />
<line x1="611.28" y1="426.3" x2="611.28" y2="421.5" stroke="#000" stroke-width="1.3" />
<line x1="606.55" y1="421.8" x2="616.01" y2="421.8" stroke="#000" stroke-width="1.5" />
<rect x="602.83" y="426.3" width="16.9" height="78.8" fill="#fff" stroke="#000" stroke-width="1.4" />
<line x1="636.5" y1="434.3" x2="636.5" y2="427.7" stroke="#000" stroke-width="1.3" />
<line x1="631.77" y1="428" x2="641.23" y2="428" stroke="#000" stroke-width="1.5" />
<rect x="628.05" y="434.3" width="16.9" height="70.8" fill="#fff" stroke="none" stroke-width="0" />
<clipPath id="c25"><rect x="628.05" y="434.3" width="16.9" height="70.8"/></clipPath>
<path clip-path="url(#c25)" d="M627.05,407.3L645.95,426.2M627.05,411.6L645.95,430.5M627.05,415.9L645.95,434.8M627.05,420.2L645.95,439.1M627.05,424.5L645.95,443.4M627.05,428.8L645.95,447.7M627.05,433.1L645.95,452M627.05,437.4L645.95,456.3M627.05,441.7L645.95,460.6M627.05,446L645.95,464.9M627.05,450.3L645.95,469.2M627.05,454.6L645.95,473.5M627.05,458.9L645.95,477.8M627.05,463.2L645.95,482.1M627.05,467.5L645.95,486.4M627.05,471.8L645.95,490.7M627.05,476.1L645.95,495M627.05,480.4L645.95,499.3M627.05,484.7L645.95,503.6M627.05,489L645.95,507.9M627.05,493.3L645.95,512.2M627.05,497.6L645.95,516.5M627.05,501.9L645.95,520.8M627.05,506.2L645.95,525.1" stroke="#000" stroke-width="1.15" fill="none"/>
<rect x="628.05" y="434.3" width="16.9" height="70.8" fill="none" stroke="#000" stroke-width="1.4" />
<line x1="661.72" y1="443.8" x2="661.72" y2="436.5" stroke="#000" stroke-width="1.3" />
<line x1="656.99" y1="436.8" x2="666.45" y2="436.8" stroke="#000" stroke-width="1.5" />
<rect x="653.27" y="443.8" width="16.9" height="61.3" fill="#000" stroke="#000" stroke-width="1.4" />
<line x1="507.5" y1="411.8" x2="557" y2="411.8" stroke="#111" stroke-width="1.3" />
<line x1="507.5" y1="409" x2="507.5" y2="414.6" stroke="#111" stroke-width="1.3" />
<line x1="557" y1="409" x2="557" y2="414.6" stroke="#111" stroke-width="1.3" />
<text x="532.25" y="409.8" font-size="7.5" text-anchor="middle" font-weight="normal" fill="#222" class="p">p&lt;0.0001</text>
<line x1="507.5" y1="420.8" x2="541.3" y2="420.8" stroke="#111" stroke-width="1.3" />
<line x1="507.5" y1="418" x2="507.5" y2="423.6" stroke="#111" stroke-width="1.3" />
<line x1="541.3" y1="418" x2="541.3" y2="423.6" stroke="#111" stroke-width="1.3" />
<text x="524.4" y="418.8" font-size="7.5" text-anchor="middle" font-weight="normal" fill="#222" class="p">p=0.0009</text>
<line x1="607.8" y1="408.8" x2="660.8" y2="408.8" stroke="#111" stroke-width="1.3" />
<line x1="607.8" y1="406" x2="607.8" y2="411.6" stroke="#111" stroke-width="1.3" />
<line x1="660.8" y1="406" x2="660.8" y2="411.6" stroke="#111" stroke-width="1.3" />
<text x="634.3" y="406.8" font-size="7.5" text-anchor="middle" font-weight="normal" fill="#222" class="p">p=0.0710</text>
<line x1="607.8" y1="417.5" x2="641" y2="417.5" stroke="#111" stroke-width="1.3" />
<line x1="607.8" y1="414.7" x2="607.8" y2="420.3" stroke="#111" stroke-width="1.3" />
<line x1="641" y1="414.7" x2="641" y2="420.3" stroke="#111" stroke-width="1.3" />
<text x="624.4" y="415.5" font-size="7.5" text-anchor="middle" font-weight="normal" fill="#222" class="p">p=0.3201</text>
<text x="535.3" y="518.7" font-size="7.8" text-anchor="middle" font-weight="normal" fill="#000" >WT</text>
<text x="637.4" y="518.7" font-size="7.8" text-anchor="middle" font-weight="normal" fill="#000" >Mut</text>
<text x="586.8" y="528.9" font-size="10" text-anchor="middle" font-weight="normal" fill="#000" >SGC-7901</text>
</g></svg></body></html>
